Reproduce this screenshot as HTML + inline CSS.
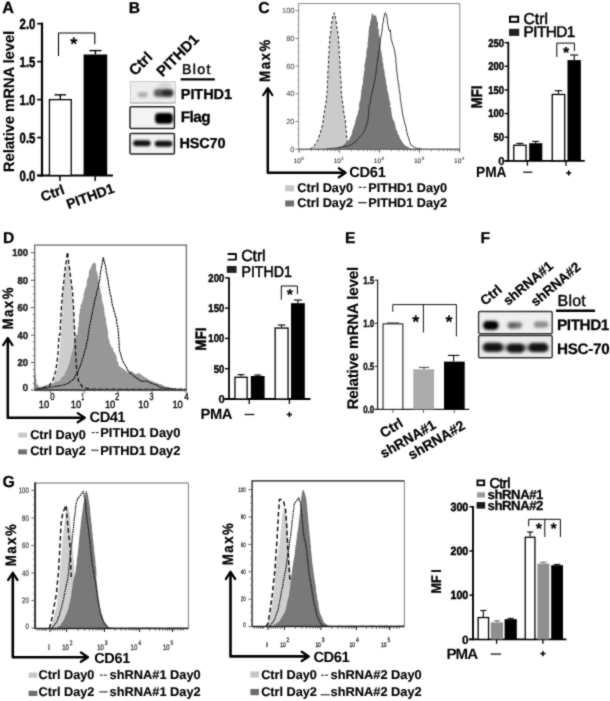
<!DOCTYPE html>
<html><head><meta charset="utf-8"><title>Figure</title>
<style>
html,body{margin:0;padding:0;background:#fff;}
svg{display:block;text-rendering:geometricPrecision;font-family:'Liberation Sans', Arial, sans-serif;}
</style></head><body>
<svg width="610" height="701" viewBox="0 0 610 701">
<defs>
<filter id="b1" x="-20%" y="-50%" width="140%" height="200%"><feGaussianBlur stdDeviation="1.2"/></filter>
<filter id="b2" x="-20%" y="-50%" width="140%" height="200%"><feGaussianBlur stdDeviation="1.8"/></filter>
<filter id="soft" filterUnits="userSpaceOnUse" x="0" y="0" width="610" height="701" color-interpolation-filters="sRGB"><feConvolveMatrix order="3" kernelMatrix="1 2 1 2 13 2 1 2 1" edgeMode="duplicate" preserveAlpha="false"/></filter>
</defs>
<rect width="610" height="701" fill="#fff"/>
<g filter="url(#soft)">
<text transform="translate(2.36 12.80)" font-size="16.23" font-weight="bold" text-anchor="start" fill="#000" stroke="#000" stroke-width="0.25" stroke-linejoin="round">A</text>
<text transform="translate(128.67 12.70)" font-size="15.65" font-weight="bold" text-anchor="start" fill="#000" stroke="#000" stroke-width="0.25" stroke-linejoin="round">B</text>
<text transform="translate(258.21 13.30)" font-size="15.80" font-weight="bold" text-anchor="start" fill="#000" stroke="#000" stroke-width="0.25" stroke-linejoin="round">C</text>
<text transform="translate(2.97 242.80)" font-size="15.65" font-weight="bold" text-anchor="start" fill="#000" stroke="#000" stroke-width="0.25" stroke-linejoin="round">D</text>
<text transform="translate(345.05 243.20)" font-size="15.65" font-weight="bold" text-anchor="start" fill="#000" stroke="#000" stroke-width="0.25" stroke-linejoin="round">E</text>
<text transform="translate(480.48 243.20)" font-size="15.65" font-weight="bold" text-anchor="start" fill="#000" stroke="#000" stroke-width="0.25" stroke-linejoin="round">F</text>
<text transform="translate(2.38 487.00)" font-size="15.94" font-weight="bold" text-anchor="start" fill="#000" stroke="#000" stroke-width="0.25" stroke-linejoin="round">G</text>
<text transform="translate(14.40 172.20) rotate(-90)" font-size="15.07" font-weight="bold" text-anchor="start" fill="#000" stroke="#000" stroke-width="0.12" stroke-linejoin="round" letter-spacing="-0.201">Relative mRNA level</text>
<line x1="42.00" y1="22.60" x2="42.00" y2="176.60" stroke="#000" stroke-width="2.2"/>
<line x1="37.20" y1="175.50" x2="113.00" y2="175.50" stroke="#000" stroke-width="2.2"/>
<line x1="37.20" y1="175.50" x2="42.00" y2="175.50" stroke="#000" stroke-width="1.7"/>
<text transform="translate(19.60 180.50) scale(0.777 1)" font-size="14.64" font-weight="bold" text-anchor="start" fill="#000" stroke="#000" stroke-width="0.5" stroke-linejoin="round">0.0</text>
<line x1="37.20" y1="137.55" x2="42.00" y2="137.55" stroke="#000" stroke-width="1.7"/>
<text transform="translate(19.60 142.55) scale(0.777 1)" font-size="14.64" font-weight="bold" text-anchor="start" fill="#000" stroke="#000" stroke-width="0.5" stroke-linejoin="round">0.5</text>
<line x1="37.20" y1="99.60" x2="42.00" y2="99.60" stroke="#000" stroke-width="1.7"/>
<text transform="translate(19.60 104.60) scale(0.777 1)" font-size="14.64" font-weight="bold" text-anchor="start" fill="#000" stroke="#000" stroke-width="0.5" stroke-linejoin="round">1.0</text>
<line x1="37.20" y1="61.65" x2="42.00" y2="61.65" stroke="#000" stroke-width="1.7"/>
<text transform="translate(19.60 66.65) scale(0.777 1)" font-size="14.64" font-weight="bold" text-anchor="start" fill="#000" stroke="#000" stroke-width="0.5" stroke-linejoin="round">1.5</text>
<line x1="37.20" y1="23.70" x2="42.00" y2="23.70" stroke="#000" stroke-width="1.7"/>
<text transform="translate(19.60 28.70) scale(0.777 1)" font-size="14.64" font-weight="bold" text-anchor="start" fill="#000" stroke="#000" stroke-width="0.5" stroke-linejoin="round">2.0</text>
<rect x="49.45" y="99.65" width="21.80" height="75.85" fill="#fff" stroke="#000" stroke-width="1.3"/>
<line x1="60.30" y1="99.30" x2="60.30" y2="94.80" stroke="#000" stroke-width="1.4"/>
<line x1="54.55" y1="94.80" x2="66.05" y2="94.80" stroke="#000" stroke-width="1.4"/>
<rect x="83.60" y="54.50" width="23.60" height="121.00" fill="#000" stroke="none" stroke-width="1"/>
<line x1="95.40" y1="54.50" x2="95.40" y2="50.60" stroke="#000" stroke-width="1.4"/>
<line x1="89.40" y1="50.60" x2="101.40" y2="50.60" stroke="#000" stroke-width="1.4"/>
<line x1="59.90" y1="175.50" x2="59.90" y2="180.90" stroke="#000" stroke-width="1.5"/>
<line x1="95.20" y1="175.50" x2="95.20" y2="180.90" stroke="#000" stroke-width="1.5"/>
<path d="M58.5,56.0 L58.5,33.0 L94.8,33.0 L94.8,44.3" fill="none" stroke="#000" stroke-width="1.1" stroke-linejoin="round"/>
<text transform="translate(73.80 49.80)" font-size="18.00" font-weight="bold" text-anchor="middle" fill="#000" stroke="#000" stroke-width="0.1" stroke-linejoin="round">*</text>
<text transform="translate(65.30 193.40) rotate(-20)" font-size="14.00" font-weight="bold" text-anchor="end" fill="#000" stroke="#000" stroke-width="0.25" stroke-linejoin="round">Ctrl</text>
<text transform="translate(115.30 192.20) rotate(-20)" font-size="14.00" font-weight="bold" text-anchor="end" fill="#000" stroke="#000" stroke-width="0.25" stroke-linejoin="round">PITHD1</text>
<text transform="translate(134.90 76.60) rotate(-45)" font-size="15.20" font-weight="bold" text-anchor="start" fill="#000" stroke="#000" stroke-width="0.25" stroke-linejoin="round">Ctrl</text>
<text transform="translate(162.60 77.40) rotate(-45)" font-size="14.80" font-weight="bold" text-anchor="start" fill="#000" stroke="#000" stroke-width="0.25" stroke-linejoin="round">PITHD1</text>
<text transform="translate(182.00 73.60)" font-size="14.20" font-weight="normal" text-anchor="start" fill="#000" stroke="#000" stroke-width="0.45" stroke-linejoin="round" letter-spacing="1.300">Blot</text>
<line x1="180.70" y1="79.40" x2="214.80" y2="79.40" stroke="#000" stroke-width="2.4"/>
<rect x="130.40" y="81.40" width="45.20" height="21.60" fill="#ededed" stroke="#c4c4c4" stroke-width="0.8"/>
<line x1="130.40" y1="103.00" x2="175.60" y2="103.00" stroke="#aaa" stroke-width="1.0"/>
<rect x="137.7" y="92.5" width="10.0" height="4.5" rx="2.2" fill="#000" opacity="0.3" filter="url(#b2)"/>
<rect x="153.8" y="89.0" width="19.5" height="8.0" rx="4.0" fill="#000" opacity="0.62" filter="url(#b2)"/>
<rect x="162.0" y="90.2" width="11.0" height="5.5" rx="2.8" fill="#000" opacity="0.55" filter="url(#b2)"/>
<rect x="159.0" y="83.8" width="12.0" height="2.5" rx="1.2" fill="#000" opacity="0.18" filter="url(#b2)"/>
<rect x="130.00" y="106.80" width="44.40" height="21.80" fill="#f3f3f3" stroke="#222" stroke-width="1.5" rx="1"/>
<rect x="155.0" y="113.0" width="17.8" height="10.8" rx="4" fill="#000" filter="url(#b1)"/>
<rect x="130.00" y="133.40" width="44.40" height="20.60" fill="#f1f1f1" stroke="#222" stroke-width="1.5" rx="1"/>
<rect x="133.1" y="140.3" width="17.5" height="6.0" rx="3.0" fill="#000" opacity="0.92" filter="url(#b1)"/>
<rect x="154.8" y="140.8" width="17.5" height="6.0" rx="3.0" fill="#000" opacity="0.92" filter="url(#b1)"/>
<text transform="translate(180.80 98.80)" font-size="14.49" font-weight="bold" text-anchor="start" fill="#000" stroke="#000" stroke-width="0.3" stroke-linejoin="round" letter-spacing="-0.064">PITHD1</text>
<text transform="translate(180.80 122.20)" font-size="15.36" font-weight="bold" text-anchor="start" fill="#000" stroke="#000" stroke-width="0.3" stroke-linejoin="round" letter-spacing="-0.590">Flag</text>
<text transform="translate(179.40 147.80)" font-size="14.49" font-weight="bold" text-anchor="start" fill="#000" stroke="#000" stroke-width="0.3" stroke-linejoin="round" letter-spacing="-0.160">HSC70</text>
<path d="M310.0,149.0 L314.0,146.5 L315.2,144.2 L316.7,142.0 L318.0,140.0 L318.8,137.4 L319.3,135.0 L320.0,132.5 L321.0,130.0 L321.5,127.1 L322.3,124.8 L323.0,122.0 L323.2,119.1 L323.9,116.6 L324.2,113.5 L324.8,110.6 L325.0,108.0 L325.6,105.1 L325.6,102.2 L326.1,99.8 L326.4,96.8 L327.0,94.0 L327.2,91.4 L327.2,88.7 L327.1,86.2 L327.5,83.8 L327.5,81.3 L327.6,78.6 L327.9,76.3 L327.7,73.7 L328.0,71.3 L328.2,68.4 L328.2,66.0 L328.6,63.3 L328.4,61.0 L328.5,58.4 L328.6,55.9 L329.1,53.3 L329.3,50.6 L329.3,48.2 L329.4,45.6 L329.7,43.3 L329.6,40.6 L329.8,38.0 L329.9,35.3 L330.6,32.6 L331.1,29.4 L331.2,26.8 L331.4,23.8 L332.0,21.0 L332.5,17.6 L333.4,14.5 L334.3,12.8 L335.2,16.0 L335.4,18.6 L336.0,21.0 L336.2,23.7 L336.8,26.9 L337.1,29.5 L337.8,32.5 L338.3,35.3 L338.6,38.0 L338.6,40.5 L338.8,43.3 L339.2,45.5 L338.9,48.0 L339.1,50.7 L339.4,53.2 L339.2,55.8 L339.6,58.4 L340.0,61.0 L339.9,63.5 L340.0,66.0 L340.2,68.3 L340.5,71.2 L340.6,73.8 L340.5,76.1 L340.5,78.8 L340.7,81.1 L340.9,83.6 L341.1,86.1 L341.1,88.7 L341.3,91.4 L341.6,94.0 L341.7,96.9 L342.3,99.2 L342.4,101.9 L342.8,104.5 L343.4,107.6 L343.5,110.0 L344.0,113.0 L344.3,115.8 L344.9,118.9 L345.5,122.0 L345.9,124.4 L345.7,127.4 L346.1,129.6 L346.3,132.2 L346.5,135.0 L346.9,138.2 L347.5,141.1 L347.7,144.0 L350.0,148.0 L352.0,149.2Z" fill="#cbcbcb" stroke="none" stroke-width="1" stroke-linejoin="round"/>
<path d="M310.0,149.0 L314.0,146.5 L315.2,144.3 L316.5,142.3 L318.0,140.0 L318.8,137.6 L319.4,134.9 L320.4,132.7 L321.0,130.0 L321.8,127.5 L322.5,124.8 L323.0,122.0 L323.3,119.2 L323.7,116.2 L324.0,113.5 L324.5,110.9 L325.0,108.0 L325.6,105.2 L326.0,102.6 L326.4,99.5 L326.5,96.7 L327.0,94.0 L327.0,91.3 L327.3,89.1 L327.5,86.4 L327.5,84.0 L327.3,81.4 L327.9,78.9 L327.9,76.2 L327.7,73.8 L327.9,71.2 L328.3,68.5 L328.2,66.0 L328.3,63.7 L328.6,60.7 L328.4,58.2 L329.0,56.0 L328.8,53.4 L329.3,50.8 L329.1,48.2 L329.2,45.4 L329.7,43.2 L329.7,40.8 L329.8,38.0 L330.1,35.4 L330.7,32.2 L330.8,29.4 L331.1,26.7 L331.5,23.8 L332.0,21.0 L332.5,18.0 L333.4,14.5 L334.3,12.8 L335.2,16.0 L335.5,18.5 L336.0,21.0 L336.5,24.0 L336.8,26.9 L337.3,29.5 L337.7,32.1 L338.1,35.0 L338.6,38.0 L338.5,40.7 L338.7,43.1 L339.1,45.7 L339.0,48.2 L339.3,50.9 L339.2,53.3 L339.4,55.7 L339.8,58.4 L339.8,61.0 L340.1,63.4 L340.0,66.0 L340.2,68.5 L340.3,71.2 L340.4,73.7 L340.6,76.4 L340.8,78.9 L341.1,81.2 L341.0,84.0 L341.3,86.2 L341.1,88.9 L341.2,91.3 L341.6,94.0 L341.7,96.8 L342.4,99.5 L342.4,102.1 L342.9,104.5 L343.4,107.6 L343.5,110.0 L343.9,113.2 L344.4,116.0 L345.2,119.2 L345.5,122.0 L345.5,124.6 L345.9,127.1 L345.9,129.7 L346.4,132.2 L346.5,135.0 L346.9,138.0 L347.1,140.9 L347.7,144.0 L350.0,148.0 L352.0,149.2" fill="none" stroke="#222" stroke-width="1.0" stroke-linejoin="round" stroke-dasharray="3 2"/>
<path d="M328.0,149.2 L330.5,148.8 L332.2,148.9 L335.0,148.0 L337.6,148.0 L339.3,146.8 L342.0,146.5 L343.4,145.3 L345.4,143.1 L347.5,142.0 L348.4,140.7 L349.8,138.3 L350.1,137.2 L351.4,135.0 L352.1,133.0 L352.3,130.2 L353.5,128.4 L353.6,126.8 L354.8,124.5 L355.3,122.0 L355.5,120.4 L356.0,118.4 L357.0,115.8 L357.7,114.4 L358.0,111.6 L358.8,110.0 L359.1,107.6 L359.0,105.4 L359.3,103.3 L359.9,101.2 L360.6,99.1 L360.7,96.8 L361.0,95.0 L361.1,92.4 L361.3,90.2 L362.1,88.6 L361.8,86.4 L362.9,83.9 L363.0,82.1 L363.0,80.0 L363.3,78.3 L363.4,76.0 L364.0,74.5 L363.9,72.3 L364.6,70.1 L364.5,67.8 L364.4,65.6 L364.7,64.2 L365.2,61.7 L365.7,60.0 L365.5,58.3 L366.6,56.2 L366.2,53.7 L366.5,52.0 L366.6,49.9 L367.0,48.5 L367.9,46.0 L367.4,44.5 L367.8,41.9 L368.2,40.0 L367.9,37.9 L368.6,36.0 L368.6,34.0 L368.6,31.8 L368.9,29.9 L369.1,27.5 L369.6,25.7 L370.1,24.0 L370.2,22.0 L370.9,19.8 L371.3,17.7 L371.5,15.0 L372.5,12.8 L373.8,16.5 L375.0,14.5 L376.5,17.0 L376.7,18.8 L377.2,21.0 L378.0,22.8 L378.0,25.4 L377.7,27.7 L378.8,29.6 L379.0,31.9 L378.7,33.7 L379.4,36.1 L380.0,38.2 L380.0,40.0 L380.3,42.4 L380.7,44.2 L380.4,45.5 L380.6,47.9 L380.8,50.3 L381.5,52.1 L381.8,54.2 L381.9,55.5 L382.5,58.2 L382.4,60.0 L382.7,62.0 L383.2,63.6 L383.6,65.8 L383.3,67.8 L384.3,69.7 L384.6,72.5 L384.7,73.9 L385.0,76.2 L385.6,78.1 L385.7,80.0 L386.2,81.6 L386.1,83.8 L387.0,85.8 L387.2,87.5 L387.1,89.8 L388.0,92.2 L388.4,93.8 L388.6,96.0 L388.9,97.6 L389.3,100.0 L390.1,101.7 L390.5,104.4 L390.0,106.0 L391.1,108.5 L391.2,110.0 L391.5,111.8 L391.7,114.4 L392.1,116.1 L392.4,118.0 L393.2,120.0 L394.3,121.6 L394.8,124.0 L395.6,126.2 L395.6,128.4 L396.5,130.0 L397.4,131.5 L397.8,134.0 L399.2,135.8 L399.7,137.8 L401.0,140.0 L402.5,142.3 L403.8,144.3 L406.0,146.0 L408.3,146.9 L410.0,148.6 L412.4,149.1 L414.0,149.2Z" fill="#777" stroke="none" stroke-width="1" stroke-linejoin="round"/>
<path d="M326.0,148.8 L328.6,148.5 L330.6,148.4 L333.0,148.3 L336.2,148.0 L338.6,147.5 L341.6,147.2 L344.1,146.4 L346.6,146.3 L349.4,145.6 L351.2,144.8 L353.2,143.3 L355.3,142.3 L356.9,140.1 L358.5,138.6 L360.2,136.4 L362.4,134.1 L364.2,131.5 L365.0,129.4 L366.0,126.8 L366.6,124.1 L367.4,122.0 L368.0,119.7 L368.3,117.4 L368.2,114.6 L368.7,112.2 L368.6,110.0 L369.0,107.7 L369.3,105.7 L370.2,103.2 L370.4,101.0 L370.8,98.8 L371.0,96.5 L371.5,94.7 L372.1,92.1 L372.5,90.0 L373.4,87.8 L373.7,84.8 L374.2,82.3 L375.0,80.0 L375.2,77.5 L375.4,75.4 L375.9,73.6 L376.3,71.1 L376.3,68.9 L376.6,66.6 L376.7,64.3 L377.5,62.0 L377.5,60.0 L377.8,57.9 L378.4,55.4 L378.3,53.2 L378.7,51.1 L379.4,49.1 L379.7,46.4 L379.5,44.6 L380.3,42.2 L380.4,40.0 L380.9,37.2 L381.1,35.3 L381.8,32.7 L382.0,30.0 L382.6,27.6 L382.4,25.4 L382.9,23.5 L383.5,21.3 L383.5,19.0 L384.3,16.1 L385.0,12.8 L386.3,14.0 L386.8,16.9 L387.3,19.7 L387.3,22.2 L387.8,24.6 L388.4,26.6 L388.6,29.0 L389.9,31.5 L390.4,30.0 L390.4,32.2 L390.9,34.8 L390.8,36.7 L391.2,39.3 L392.0,41.8 L392.6,44.1 L393.5,46.4 L394.2,49.2 L395.0,52.0 L395.1,54.4 L395.7,56.9 L395.9,59.2 L395.7,61.5 L396.3,64.2 L396.2,66.2 L396.5,68.9 L396.8,71.5 L397.1,73.7 L397.5,76.5 L397.6,78.4 L398.0,81.1 L398.5,83.4 L398.9,86.2 L399.0,88.5 L399.3,90.7 L399.9,93.2 L400.2,95.5 L400.2,98.2 L400.5,100.7 L401.0,102.6 L401.2,105.2 L401.8,107.9 L402.0,110.0 L402.3,112.4 L402.8,115.1 L403.3,117.0 L404.0,119.7 L404.3,121.9 L405.3,124.4 L405.7,126.7 L406.3,128.6 L406.4,131.2 L407.2,132.9 L407.6,135.4 L408.5,137.8 L409.2,140.2 L410.0,142.5 L411.0,145.2 L413.3,146.6 L415.8,148.2 L419.2,148.4 L422.0,149.0" fill="none" stroke="#222" stroke-width="0.9" stroke-linejoin="round"/>
<rect x="298.60" y="3.60" width="161.20" height="145.60" fill="none" stroke="#8c8c8c" stroke-width="1.0"/>
<line x1="298.60" y1="149.20" x2="459.80" y2="149.20" stroke="#555" stroke-width="1.1"/>
<line x1="295.20" y1="149.20" x2="298.60" y2="149.20" stroke="#666" stroke-width="0.8"/>
<text transform="translate(294.40 151.80)" font-size="7.40" font-weight="normal" text-anchor="end" fill="#555" stroke="#555" stroke-width="0.1" stroke-linejoin="round">0</text>
<line x1="297.00" y1="142.28" x2="298.60" y2="142.28" stroke="#888" stroke-width="0.5"/>
<line x1="297.00" y1="135.36" x2="298.60" y2="135.36" stroke="#888" stroke-width="0.5"/>
<line x1="297.00" y1="128.44" x2="298.60" y2="128.44" stroke="#888" stroke-width="0.5"/>
<line x1="295.20" y1="121.52" x2="298.60" y2="121.52" stroke="#666" stroke-width="0.8"/>
<text transform="translate(294.40 124.12)" font-size="7.40" font-weight="normal" text-anchor="end" fill="#555" stroke="#555" stroke-width="0.1" stroke-linejoin="round">20</text>
<line x1="297.00" y1="114.60" x2="298.60" y2="114.60" stroke="#888" stroke-width="0.5"/>
<line x1="297.00" y1="107.68" x2="298.60" y2="107.68" stroke="#888" stroke-width="0.5"/>
<line x1="297.00" y1="100.76" x2="298.60" y2="100.76" stroke="#888" stroke-width="0.5"/>
<line x1="295.20" y1="93.84" x2="298.60" y2="93.84" stroke="#666" stroke-width="0.8"/>
<text transform="translate(294.40 96.44)" font-size="7.40" font-weight="normal" text-anchor="end" fill="#555" stroke="#555" stroke-width="0.1" stroke-linejoin="round">40</text>
<line x1="297.00" y1="86.92" x2="298.60" y2="86.92" stroke="#888" stroke-width="0.5"/>
<line x1="297.00" y1="80.00" x2="298.60" y2="80.00" stroke="#888" stroke-width="0.5"/>
<line x1="297.00" y1="73.08" x2="298.60" y2="73.08" stroke="#888" stroke-width="0.5"/>
<line x1="295.20" y1="66.16" x2="298.60" y2="66.16" stroke="#666" stroke-width="0.8"/>
<text transform="translate(294.40 68.76)" font-size="7.40" font-weight="normal" text-anchor="end" fill="#555" stroke="#555" stroke-width="0.1" stroke-linejoin="round">60</text>
<line x1="297.00" y1="59.24" x2="298.60" y2="59.24" stroke="#888" stroke-width="0.5"/>
<line x1="297.00" y1="52.32" x2="298.60" y2="52.32" stroke="#888" stroke-width="0.5"/>
<line x1="297.00" y1="45.40" x2="298.60" y2="45.40" stroke="#888" stroke-width="0.5"/>
<line x1="295.20" y1="38.48" x2="298.60" y2="38.48" stroke="#666" stroke-width="0.8"/>
<text transform="translate(294.40 41.08)" font-size="7.40" font-weight="normal" text-anchor="end" fill="#555" stroke="#555" stroke-width="0.1" stroke-linejoin="round">80</text>
<line x1="297.00" y1="31.56" x2="298.60" y2="31.56" stroke="#888" stroke-width="0.5"/>
<line x1="297.00" y1="24.64" x2="298.60" y2="24.64" stroke="#888" stroke-width="0.5"/>
<line x1="297.00" y1="17.72" x2="298.60" y2="17.72" stroke="#888" stroke-width="0.5"/>
<line x1="295.20" y1="10.80" x2="298.60" y2="10.80" stroke="#666" stroke-width="0.8"/>
<text transform="translate(294.40 13.40)" font-size="7.40" font-weight="normal" text-anchor="end" fill="#555" stroke="#555" stroke-width="0.1" stroke-linejoin="round">100</text>
<line x1="299.20" y1="149.20" x2="299.20" y2="152.60" stroke="#444" stroke-width="0.9"/>
<text transform="translate(293.60 162.90)" font-size="6.60" font-weight="normal" text-anchor="start" fill="#333" stroke="#333" stroke-width="0.15" stroke-linejoin="round">10</text>
<text transform="translate(301.20 160.00)" font-size="4.60" font-weight="normal" text-anchor="start" fill="#333" stroke="#333" stroke-width="0.1" stroke-linejoin="round">0</text>
<line x1="311.27" y1="149.20" x2="311.27" y2="151.20" stroke="#555" stroke-width="0.7"/>
<line x1="318.33" y1="149.20" x2="318.33" y2="151.20" stroke="#555" stroke-width="0.7"/>
<line x1="323.34" y1="149.20" x2="323.34" y2="151.20" stroke="#555" stroke-width="0.7"/>
<line x1="327.23" y1="149.20" x2="327.23" y2="151.20" stroke="#555" stroke-width="0.7"/>
<line x1="330.40" y1="149.20" x2="330.40" y2="151.20" stroke="#555" stroke-width="0.7"/>
<line x1="333.09" y1="149.20" x2="333.09" y2="151.20" stroke="#555" stroke-width="0.7"/>
<line x1="335.41" y1="149.20" x2="335.41" y2="151.20" stroke="#555" stroke-width="0.7"/>
<line x1="337.47" y1="149.20" x2="337.47" y2="151.20" stroke="#555" stroke-width="0.7"/>
<line x1="339.30" y1="149.20" x2="339.30" y2="152.60" stroke="#444" stroke-width="0.9"/>
<text transform="translate(333.70 162.90)" font-size="6.60" font-weight="normal" text-anchor="start" fill="#333" stroke="#333" stroke-width="0.15" stroke-linejoin="round">10</text>
<text transform="translate(341.30 160.00)" font-size="4.60" font-weight="normal" text-anchor="start" fill="#333" stroke="#333" stroke-width="0.1" stroke-linejoin="round">1</text>
<line x1="351.37" y1="149.20" x2="351.37" y2="151.20" stroke="#555" stroke-width="0.7"/>
<line x1="358.43" y1="149.20" x2="358.43" y2="151.20" stroke="#555" stroke-width="0.7"/>
<line x1="363.44" y1="149.20" x2="363.44" y2="151.20" stroke="#555" stroke-width="0.7"/>
<line x1="367.33" y1="149.20" x2="367.33" y2="151.20" stroke="#555" stroke-width="0.7"/>
<line x1="370.50" y1="149.20" x2="370.50" y2="151.20" stroke="#555" stroke-width="0.7"/>
<line x1="373.19" y1="149.20" x2="373.19" y2="151.20" stroke="#555" stroke-width="0.7"/>
<line x1="375.51" y1="149.20" x2="375.51" y2="151.20" stroke="#555" stroke-width="0.7"/>
<line x1="377.57" y1="149.20" x2="377.57" y2="151.20" stroke="#555" stroke-width="0.7"/>
<line x1="379.40" y1="149.20" x2="379.40" y2="152.60" stroke="#444" stroke-width="0.9"/>
<text transform="translate(373.80 162.90)" font-size="6.60" font-weight="normal" text-anchor="start" fill="#333" stroke="#333" stroke-width="0.15" stroke-linejoin="round">10</text>
<text transform="translate(381.40 160.00)" font-size="4.60" font-weight="normal" text-anchor="start" fill="#333" stroke="#333" stroke-width="0.1" stroke-linejoin="round">2</text>
<line x1="391.47" y1="149.20" x2="391.47" y2="151.20" stroke="#555" stroke-width="0.7"/>
<line x1="398.53" y1="149.20" x2="398.53" y2="151.20" stroke="#555" stroke-width="0.7"/>
<line x1="403.54" y1="149.20" x2="403.54" y2="151.20" stroke="#555" stroke-width="0.7"/>
<line x1="407.43" y1="149.20" x2="407.43" y2="151.20" stroke="#555" stroke-width="0.7"/>
<line x1="410.60" y1="149.20" x2="410.60" y2="151.20" stroke="#555" stroke-width="0.7"/>
<line x1="413.29" y1="149.20" x2="413.29" y2="151.20" stroke="#555" stroke-width="0.7"/>
<line x1="415.61" y1="149.20" x2="415.61" y2="151.20" stroke="#555" stroke-width="0.7"/>
<line x1="417.67" y1="149.20" x2="417.67" y2="151.20" stroke="#555" stroke-width="0.7"/>
<line x1="419.50" y1="149.20" x2="419.50" y2="152.60" stroke="#444" stroke-width="0.9"/>
<text transform="translate(413.90 162.90)" font-size="6.60" font-weight="normal" text-anchor="start" fill="#333" stroke="#333" stroke-width="0.15" stroke-linejoin="round">10</text>
<text transform="translate(421.50 160.00)" font-size="4.60" font-weight="normal" text-anchor="start" fill="#333" stroke="#333" stroke-width="0.1" stroke-linejoin="round">3</text>
<line x1="431.57" y1="149.20" x2="431.57" y2="151.20" stroke="#555" stroke-width="0.7"/>
<line x1="438.63" y1="149.20" x2="438.63" y2="151.20" stroke="#555" stroke-width="0.7"/>
<line x1="443.64" y1="149.20" x2="443.64" y2="151.20" stroke="#555" stroke-width="0.7"/>
<line x1="447.53" y1="149.20" x2="447.53" y2="151.20" stroke="#555" stroke-width="0.7"/>
<line x1="450.70" y1="149.20" x2="450.70" y2="151.20" stroke="#555" stroke-width="0.7"/>
<line x1="453.39" y1="149.20" x2="453.39" y2="151.20" stroke="#555" stroke-width="0.7"/>
<line x1="455.71" y1="149.20" x2="455.71" y2="151.20" stroke="#555" stroke-width="0.7"/>
<line x1="457.77" y1="149.20" x2="457.77" y2="151.20" stroke="#555" stroke-width="0.7"/>
<line x1="459.60" y1="149.20" x2="459.60" y2="152.60" stroke="#444" stroke-width="0.9"/>
<text transform="translate(454.00 162.90)" font-size="6.60" font-weight="normal" text-anchor="start" fill="#333" stroke="#333" stroke-width="0.15" stroke-linejoin="round">10</text>
<text transform="translate(461.60 160.00)" font-size="4.60" font-weight="normal" text-anchor="start" fill="#333" stroke="#333" stroke-width="0.1" stroke-linejoin="round">4</text>
<text transform="translate(270.40 81.90) rotate(-90) scale(0.880 1)" font-size="15.07" font-weight="bold" text-anchor="start" fill="#000" stroke="#000" stroke-width="0.3" stroke-linejoin="round" letter-spacing="1.7" dx="0 0 0 0.24">Max%</text>
<path d="M267.8,88.6 L267.8,172.8 L345.2,172.8" fill="none" stroke="#000" stroke-width="2.5" stroke-linejoin="round"/>
<path d="M263.3,95.0 L267.8,88.2 L272.3,95.0" fill="none" stroke="#000" stroke-width="2.25" stroke-linejoin="round" stroke-linecap="round" stroke-linejoin="miter"/>
<path d="M338.8,168.3 L345.6,172.8 L338.8,177.3" fill="none" stroke="#000" stroke-width="2.25" stroke-linejoin="round" stroke-linecap="round" stroke-linejoin="miter"/>
<text transform="translate(349.20 177.00)" font-size="14.64" font-weight="bold" text-anchor="start" fill="#000" stroke="#000" stroke-width="0.01" stroke-linejoin="round" letter-spacing="-0.266">CD61</text>
<rect x="285.20" y="185.30" width="8.90" height="6.00" fill="#c6c6c6" stroke="none" stroke-width="1"/>
<rect x="285.20" y="200.50" width="8.90" height="6.00" fill="#6e6e6e" stroke="none" stroke-width="1"/>
<text transform="translate(297.30 191.90)" font-size="12.70" font-weight="bold" text-anchor="start" fill="#000" stroke="#000" stroke-width="0.15" stroke-linejoin="round">Ctrl Day0</text>
<text transform="translate(297.30 207.10)" font-size="12.70" font-weight="bold" text-anchor="start" fill="#000" stroke="#000" stroke-width="0.15" stroke-linejoin="round">Ctrl Day2</text>
<line x1="358.60" y1="187.30" x2="361.75" y2="187.30" stroke="#222" stroke-width="1.1"/>
<line x1="362.95" y1="187.30" x2="366.10" y2="187.30" stroke="#222" stroke-width="1.1"/>
<line x1="358.20" y1="202.70" x2="366.70" y2="202.70" stroke="#111" stroke-width="1.2"/>
<text transform="translate(368.20 191.90)" font-size="12.70" font-weight="bold" text-anchor="start" fill="#000" stroke="#000" stroke-width="0.15" stroke-linejoin="round">PITHD1 Day0</text>
<text transform="translate(368.20 207.10)" font-size="12.70" font-weight="bold" text-anchor="start" fill="#000" stroke="#000" stroke-width="0.15" stroke-linejoin="round">PITHD1 Day2</text>
<line x1="508.30" y1="41.80" x2="508.30" y2="161.70" stroke="#000" stroke-width="1.8"/>
<line x1="504.40" y1="160.80" x2="584.80" y2="160.80" stroke="#000" stroke-width="1.8"/>
<line x1="504.60" y1="160.80" x2="508.30" y2="160.80" stroke="#000" stroke-width="1.4"/>
<text transform="translate(498.23 164.70)" font-size="11.30" font-weight="bold" text-anchor="start" fill="#000" stroke="#000" stroke-width="0.25" stroke-linejoin="round">0</text>
<line x1="504.60" y1="137.18" x2="508.30" y2="137.18" stroke="#000" stroke-width="1.4"/>
<text transform="translate(493.47 141.08) scale(0.839 1)" font-size="11.30" font-weight="bold" text-anchor="start" fill="#000" stroke="#000" stroke-width="0.5" stroke-linejoin="round">50</text>
<line x1="504.60" y1="113.56" x2="508.30" y2="113.56" stroke="#000" stroke-width="1.4"/>
<text transform="translate(488.16 117.46) scale(0.839 1)" font-size="11.30" font-weight="bold" text-anchor="start" fill="#000" stroke="#000" stroke-width="0.5" stroke-linejoin="round">100</text>
<line x1="504.60" y1="89.94" x2="508.30" y2="89.94" stroke="#000" stroke-width="1.4"/>
<text transform="translate(488.16 93.84) scale(0.839 1)" font-size="11.30" font-weight="bold" text-anchor="start" fill="#000" stroke="#000" stroke-width="0.5" stroke-linejoin="round">150</text>
<line x1="504.60" y1="66.32" x2="508.30" y2="66.32" stroke="#000" stroke-width="1.4"/>
<text transform="translate(488.16 70.22) scale(0.839 1)" font-size="11.30" font-weight="bold" text-anchor="start" fill="#000" stroke="#000" stroke-width="0.5" stroke-linejoin="round">200</text>
<line x1="504.60" y1="42.70" x2="508.30" y2="42.70" stroke="#000" stroke-width="1.4"/>
<text transform="translate(488.16 46.60) scale(0.839 1)" font-size="11.30" font-weight="bold" text-anchor="start" fill="#000" stroke="#000" stroke-width="0.5" stroke-linejoin="round">250</text>
<text transform="translate(482.00 108.60) rotate(-90) scale(0.870 1)" font-size="15.36" font-weight="bold" text-anchor="start" fill="#000" stroke="#000" stroke-width="0.5" stroke-linejoin="round">MFI</text>
<rect x="510.00" y="16.70" width="8.20" height="5.10" fill="#fff" stroke="#000" stroke-width="2.0"/>
<rect x="509.00" y="28.80" width="10.20" height="7.10" fill="#222" stroke="none" stroke-width="1"/>
<text transform="translate(523.40 23.50)" font-size="15.65" font-weight="normal" text-anchor="start" fill="#000" stroke="#000" stroke-width="0.55" stroke-linejoin="round" letter-spacing="0.087">Ctrl</text>
<text transform="translate(523.60 37.10)" font-size="15.36" font-weight="normal" text-anchor="start" fill="#000" stroke="#000" stroke-width="0.55" stroke-linejoin="round" letter-spacing="-0.583">PITHD1</text>
<rect x="513.75" y="145.25" width="12.30" height="15.55" fill="#fff" stroke="#000" stroke-width="1.3"/>
<line x1="519.90" y1="144.60" x2="519.90" y2="143.40" stroke="#000" stroke-width="1.1"/>
<line x1="516.40" y1="143.40" x2="523.40" y2="143.40" stroke="#000" stroke-width="1.1"/>
<rect x="529.20" y="143.20" width="13.10" height="17.60" fill="#000" stroke="none" stroke-width="1"/>
<line x1="535.70" y1="143.20" x2="535.70" y2="141.40" stroke="#000" stroke-width="1.1"/>
<line x1="532.20" y1="141.40" x2="539.20" y2="141.40" stroke="#000" stroke-width="1.1"/>
<rect x="552.25" y="94.45" width="12.40" height="66.35" fill="#fff" stroke="#000" stroke-width="1.3"/>
<line x1="558.40" y1="93.80" x2="558.40" y2="90.70" stroke="#000" stroke-width="1.1"/>
<line x1="554.65" y1="90.70" x2="562.15" y2="90.70" stroke="#000" stroke-width="1.1"/>
<rect x="567.50" y="60.10" width="13.40" height="100.70" fill="#000" stroke="none" stroke-width="1"/>
<line x1="574.20" y1="60.10" x2="574.20" y2="55.00" stroke="#000" stroke-width="1.1"/>
<line x1="570.20" y1="55.00" x2="578.20" y2="55.00" stroke="#000" stroke-width="1.1"/>
<line x1="527.40" y1="160.80" x2="527.40" y2="165.70" stroke="#000" stroke-width="1.3"/>
<line x1="566.00" y1="160.80" x2="566.00" y2="165.70" stroke="#000" stroke-width="1.3"/>
<path d="M556.8,57.0 L556.8,43.1 L574.4,43.1 L574.4,51.0" fill="none" stroke="#000" stroke-width="1.0" stroke-linejoin="round"/>
<text transform="translate(566.00 57.60)" font-size="16.00" font-weight="bold" text-anchor="middle" fill="#000" stroke="#000" stroke-width="0.2" stroke-linejoin="round">*</text>
<text transform="translate(476.00 177.30) scale(0.920 1)" font-size="14.93" font-weight="bold" text-anchor="start" fill="#000" stroke="#000" stroke-width="0.01" stroke-linejoin="round">PMA</text>
<line x1="523.20" y1="172.20" x2="532.40" y2="172.20" stroke="#111" stroke-width="1.3"/>
<line x1="566.10" y1="173.00" x2="571.30" y2="173.00" stroke="#000" stroke-width="1.5"/>
<line x1="568.70" y1="170.40" x2="568.70" y2="175.60" stroke="#000" stroke-width="1.5"/>
<path d="M40.0,389.6 L43.4,388.6 L46.3,388.0 L49.5,387.0 L51.7,384.2 L53.5,381.5 L54.1,378.9 L55.2,376.5 L56.0,373.6 L57.0,371.0 L57.6,368.1 L57.8,365.8 L58.4,362.8 L58.4,360.1 L59.3,357.5 L59.5,355.0 L59.8,352.7 L59.8,349.9 L60.3,347.6 L60.1,345.1 L60.3,342.4 L60.4,340.1 L61.0,337.6 L61.0,335.0 L61.3,332.1 L61.1,329.6 L61.5,327.2 L61.3,324.1 L61.5,321.6 L61.8,318.7 L61.9,316.3 L61.8,313.5 L62.1,311.1 L62.2,308.3 L62.2,305.8 L62.6,303.1 L62.4,300.9 L62.6,298.0 L62.7,295.7 L63.0,293.3 L63.4,290.8 L63.4,288.0 L63.6,285.3 L63.8,283.0 L64.4,280.5 L64.5,278.0 L65.0,275.6 L65.2,273.0 L65.9,270.7 L66.4,267.8 L67.0,265.3 L67.4,262.9 L67.9,260.4 L68.4,263.1 L68.6,266.1 L69.0,269.3 L69.6,272.0 L70.0,274.5 L70.2,277.4 L70.6,279.6 L71.1,282.4 L71.6,284.7 L71.6,287.6 L72.0,290.0 L72.3,292.8 L72.1,295.1 L72.3,297.7 L72.9,300.5 L73.1,303.0 L73.2,305.6 L73.1,308.4 L73.6,310.7 L73.6,313.5 L73.8,316.2 L73.9,318.8 L74.0,321.4 L74.3,324.3 L74.7,326.8 L74.6,329.5 L75.1,332.2 L75.2,335.0 L75.2,337.6 L75.6,340.6 L75.4,343.2 L75.7,346.2 L76.0,348.7 L75.9,351.8 L76.2,354.5 L76.3,357.0 L76.4,360.0 L76.6,362.4 L76.8,364.9 L77.2,367.8 L77.2,370.2 L77.6,373.0 L78.2,376.0 L78.3,379.3 L79.0,382.0 L81.0,384.9 L83.0,387.5 L86.5,388.7 L90.0,389.6Z" fill="#cdcdcd" stroke="none" stroke-width="1" stroke-linejoin="round"/>
<path d="M34.7,389.8 L34.7,387.2 L34.3,385.4 L35.0,383.5 L34.5,381.0 L34.9,378.7 L34.7,376.2 L35.2,374.7 L35.2,372.0 L35.0,374.0 L36.0,376.5 L35.6,377.6 L36.6,380.5 L36.3,381.6 L36.6,384.0 L38.4,385.4 L39.3,387.0 L42.6,386.4 L45.0,385.5 L47.4,384.7 L49.4,384.2 L51.2,384.0 L53.1,383.6 L55.4,382.2 L56.8,381.6 L59.0,381.0 L60.5,379.2 L61.6,377.3 L63.6,376.3 L64.9,374.2 L65.2,372.3 L66.8,369.8 L67.6,367.9 L68.2,366.3 L68.9,364.3 L69.6,362.1 L69.9,360.5 L70.5,358.6 L71.1,356.4 L71.2,354.6 L72.2,352.3 L72.8,350.6 L73.4,348.9 L73.5,346.3 L73.9,344.3 L73.9,342.6 L74.2,340.7 L75.0,338.3 L75.5,336.4 L75.7,334.8 L77.1,335.0 L77.6,333.0 L77.6,329.9 L77.8,327.9 L78.5,325.4 L78.3,323.4 L78.9,321.6 L79.0,319.1 L78.7,317.0 L79.2,314.7 L79.9,311.6 L79.7,309.6 L80.6,308.1 L80.4,305.5 L81.7,303.4 L82.4,301.5 L82.6,299.8 L83.4,297.5 L83.6,296.3 L83.8,293.6 L84.6,291.7 L84.6,289.6 L85.3,288.4 L86.3,286.4 L86.6,284.0 L86.7,282.3 L87.0,280.1 L88.0,277.9 L88.6,276.2 L88.8,274.5 L88.7,272.7 L89.5,270.2 L90.5,268.2 L91.5,266.2 L92.0,264.5 L94.0,262.4 L95.4,263.0 L96.2,265.5 L95.9,268.1 L96.4,270.2 L96.7,271.8 L97.4,273.7 L97.9,275.8 L98.1,278.5 L98.4,280.0 L98.9,282.1 L99.0,283.5 L99.2,285.6 L100.2,287.9 L100.5,290.3 L100.5,291.6 L101.3,293.9 L101.9,295.7 L101.7,298.2 L102.2,300.5 L102.7,303.0 L103.5,304.8 L104.0,307.3 L104.3,309.6 L104.3,312.2 L104.8,313.7 L105.0,316.4 L106.1,318.7 L106.0,320.4 L106.0,323.0 L106.9,324.9 L107.2,327.3 L107.6,329.8 L108.1,332.7 L107.9,335.0 L108.2,337.3 L108.6,338.9 L109.5,340.6 L109.7,343.0 L110.7,344.7 L111.2,346.7 L113.1,348.3 L113.3,350.7 L114.6,352.7 L115.6,354.5 L116.6,356.1 L116.7,358.2 L117.1,360.8 L118.5,362.6 L118.4,364.7 L119.5,366.3 L121.7,367.7 L123.7,369.2 L125.2,370.3 L127.4,372.2 L131.0,371.0 L132.8,372.1 L135.2,374.2 L139.0,373.0 L142.1,375.2 L143.7,376.6 L145.7,377.9 L147.5,378.6 L149.0,380.0 L151.0,380.7 L153.2,381.6 L154.7,382.5 L157.4,382.9 L158.9,384.0 L161.2,384.2 L162.6,385.2 L165.0,386.6 L167.0,386.7 L168.7,387.6 L171.5,387.8 L173.3,388.8 L176.2,389.0 L178.5,389.2 L181.2,389.9 L183.5,389.9 L186.0,389.8Z" fill="#979797" stroke="none" stroke-width="1" stroke-linejoin="round"/>
<path d="M36.0,389.3 L39.3,389.0 L42.7,388.1 L45.9,387.1 L49.2,386.0 L51.1,382.9 L53.0,380.0 L53.9,376.8 L54.9,373.6 L56.0,370.2 L56.3,366.9 L56.7,364.0 L57.2,360.7 L57.5,357.5 L58.0,354.5 L58.2,351.3 L58.4,348.0 L58.4,344.7 L58.6,341.5 L58.9,338.2 L59.0,334.8 L60.0,335.0 L60.0,332.0 L60.4,329.0 L60.3,325.7 L60.5,322.6 L60.8,319.7 L60.9,316.7 L61.0,313.5 L61.3,310.2 L61.4,307.0 L61.8,303.8 L61.9,300.7 L62.1,297.5 L62.4,294.4 L62.7,291.1 L63.0,288.0 L63.5,284.4 L63.9,280.9 L64.1,277.3 L64.6,273.8 L65.0,270.2 L65.4,267.3 L65.8,264.1 L66.4,261.1 L66.8,258.1 L66.9,255.1 L67.5,252.2 L68.0,255.3 L68.1,258.2 L68.6,261.3 L68.9,264.2 L69.4,267.3 L69.8,270.2 L70.2,273.6 L70.6,276.7 L71.2,280.1 L71.4,283.4 L71.8,286.8 L72.4,290.0 L72.7,293.4 L72.8,296.7 L73.0,300.0 L73.3,303.3 L73.5,306.6 L73.5,310.1 L73.8,313.5 L74.1,316.6 L74.0,319.8 L74.1,322.7 L74.4,325.9 L74.6,328.9 L74.6,331.9 L74.8,335.0 L74.8,338.4 L75.1,341.6 L75.2,344.7 L75.5,348.0 L75.4,351.2 L75.7,354.5 L76.0,357.6 L76.0,360.7 L76.4,364.0 L76.4,367.0 L76.7,370.2 L77.3,374.1 L78.0,378.0 L78.7,382.0 L80.6,384.4 L82.6,387.0 L86.7,388.2 L90.5,389.2 L93.5,389.3 L96.5,389.2 L99.9,389.3 L102.9,389.2 L105.8,389.3 L108.9,389.2 L112.0,389.1 L115.1,389.3 L118.3,389.3 L121.3,389.3 L124.3,389.3 L127.4,389.3 L130.7,389.3 L133.7,389.4 L136.7,389.2 L139.9,389.4 L143.0,389.4 L146.1,389.4 L149.1,389.3 L152.1,389.4 L155.1,389.3 L158.4,389.4 L161.4,389.3 L164.4,389.3 L167.6,389.3 L170.6,389.5 L173.6,389.4 L176.8,389.3 L179.8,389.5 L182.8,389.4 L186.0,389.4" fill="none" stroke="#111" stroke-width="1.3" stroke-linejoin="round" stroke-dasharray="4.2 2.4"/>
<path d="M36.0,389.0 L38.2,388.9 L41.2,388.3 L43.3,388.0 L45.7,387.7 L48.6,387.5 L51.2,387.0 L53.6,386.7 L56.2,386.2 L58.2,386.1 L60.4,385.5 L63.0,385.0 L64.9,384.5 L66.7,384.0 L68.9,383.0 L70.4,381.4 L72.0,380.3 L73.8,379.1 L74.8,376.7 L76.3,374.6 L77.7,372.2 L78.4,370.1 L79.1,368.4 L80.3,366.3 L80.6,364.6 L81.6,362.4 L82.1,360.2 L82.5,358.7 L83.5,356.6 L83.9,354.6 L84.3,352.9 L84.9,350.7 L85.6,348.6 L86.2,346.8 L86.3,344.5 L86.8,342.4 L87.4,340.6 L87.8,338.6 L87.8,336.6 L88.3,334.8 L88.6,332.3 L88.7,330.5 L89.2,327.9 L89.6,325.9 L90.1,323.7 L90.5,321.4 L91.0,319.3 L91.6,317.7 L91.4,315.7 L92.4,313.7 L92.3,311.8 L93.1,309.2 L93.4,307.6 L93.5,306.0 L94.4,303.5 L94.4,301.5 L94.9,300.0 L95.4,297.6 L96.3,296.1 L96.4,293.9 L96.7,292.2 L97.4,290.1 L98.0,288.2 L98.5,286.2 L98.6,284.1 L99.3,282.0 L99.7,279.9 L99.9,277.7 L100.3,275.0 L100.4,272.6 L101.0,270.3 L101.3,268.3 L101.7,265.9 L102.1,264.0 L102.6,262.1 L102.6,259.9 L103.4,257.5 L103.8,259.7 L104.4,262.0 L104.7,263.8 L105.6,265.7 L105.8,268.2 L106.2,270.2 L106.2,272.3 L107.0,274.5 L107.1,276.5 L107.5,278.1 L108.1,279.8 L108.4,282.2 L108.4,284.3 L108.8,286.0 L109.2,288.0 L109.6,290.4 L109.8,292.4 L110.4,294.8 L111.1,296.8 L111.5,299.1 L111.7,301.3 L112.1,303.7 L112.7,306.0 L113.3,307.8 L113.7,309.5 L114.2,311.6 L115.0,313.8 L115.1,315.7 L116.0,317.5 L116.7,319.9 L116.5,322.1 L116.9,324.4 L117.9,327.0 L118.0,329.3 L118.3,331.6 L118.6,333.6 L118.5,335.8 L118.7,337.9 L118.9,339.7 L119.0,342.1 L119.2,343.9 L119.0,346.0 L119.5,348.8 L119.5,350.6 L120.2,352.5 L120.9,354.7 L121.3,356.3 L121.8,358.4 L122.5,360.4 L123.7,362.7 L125.2,365.3 L126.4,367.3 L127.5,369.8 L129.3,372.2 L130.9,373.6 L133.5,375.5 L135.2,377.1 L137.5,378.4 L138.8,379.7 L141.1,381.1 L143.6,381.4 L146.0,381.0 L148.7,382.0 L150.6,382.7 L153.0,384.0 L155.1,384.5 L156.7,385.1 L158.5,386.3 L160.6,387.2 L162.8,387.6 L165.0,388.2 L167.4,388.0 L170.3,388.5 L172.6,389.0 L175.0,388.8 L176.8,389.3 L179.4,389.4 L181.7,389.0 L183.9,389.5 L186.0,389.4" fill="none" stroke="#1a1a1a" stroke-width="1.15" stroke-linejoin="round" stroke-dasharray="2.6 0.5"/>
<rect x="34.70" y="245.10" width="151.70" height="144.90" fill="none" stroke="#6a6a6a" stroke-width="1.3"/>
<line x1="34.70" y1="390.00" x2="186.40" y2="390.00" stroke="#333" stroke-width="1.4"/>
<line x1="30.90" y1="252.80" x2="34.70" y2="252.80" stroke="#555" stroke-width="1.0"/>
<text transform="translate(12.19 256.30) scale(0.927 1)" font-size="10.14" font-weight="bold" text-anchor="start" fill="#222" stroke="#222" stroke-width="0.5" stroke-linejoin="round">100</text>
<line x1="32.70" y1="259.66" x2="34.70" y2="259.66" stroke="#666" stroke-width="0.8"/>
<line x1="32.70" y1="266.52" x2="34.70" y2="266.52" stroke="#666" stroke-width="0.8"/>
<line x1="32.70" y1="273.38" x2="34.70" y2="273.38" stroke="#666" stroke-width="0.8"/>
<line x1="30.90" y1="280.24" x2="34.70" y2="280.24" stroke="#555" stroke-width="1.0"/>
<text transform="translate(17.46 283.74) scale(0.927 1)" font-size="10.14" font-weight="bold" text-anchor="start" fill="#222" stroke="#222" stroke-width="0.5" stroke-linejoin="round">80</text>
<line x1="32.70" y1="287.10" x2="34.70" y2="287.10" stroke="#666" stroke-width="0.8"/>
<line x1="32.70" y1="293.96" x2="34.70" y2="293.96" stroke="#666" stroke-width="0.8"/>
<line x1="32.70" y1="300.82" x2="34.70" y2="300.82" stroke="#666" stroke-width="0.8"/>
<line x1="30.90" y1="307.68" x2="34.70" y2="307.68" stroke="#555" stroke-width="1.0"/>
<text transform="translate(17.46 311.18) scale(0.927 1)" font-size="10.14" font-weight="bold" text-anchor="start" fill="#222" stroke="#222" stroke-width="0.5" stroke-linejoin="round">60</text>
<line x1="32.70" y1="314.54" x2="34.70" y2="314.54" stroke="#666" stroke-width="0.8"/>
<line x1="32.70" y1="321.40" x2="34.70" y2="321.40" stroke="#666" stroke-width="0.8"/>
<line x1="32.70" y1="328.26" x2="34.70" y2="328.26" stroke="#666" stroke-width="0.8"/>
<line x1="30.90" y1="335.12" x2="34.70" y2="335.12" stroke="#555" stroke-width="1.0"/>
<text transform="translate(17.46 338.62) scale(0.927 1)" font-size="10.14" font-weight="bold" text-anchor="start" fill="#222" stroke="#222" stroke-width="0.5" stroke-linejoin="round">40</text>
<line x1="32.70" y1="341.98" x2="34.70" y2="341.98" stroke="#666" stroke-width="0.8"/>
<line x1="32.70" y1="348.84" x2="34.70" y2="348.84" stroke="#666" stroke-width="0.8"/>
<line x1="32.70" y1="355.70" x2="34.70" y2="355.70" stroke="#666" stroke-width="0.8"/>
<line x1="30.90" y1="362.56" x2="34.70" y2="362.56" stroke="#555" stroke-width="1.0"/>
<text transform="translate(17.46 366.06) scale(0.927 1)" font-size="10.14" font-weight="bold" text-anchor="start" fill="#222" stroke="#222" stroke-width="0.5" stroke-linejoin="round">20</text>
<line x1="32.70" y1="369.42" x2="34.70" y2="369.42" stroke="#666" stroke-width="0.8"/>
<line x1="32.70" y1="376.28" x2="34.70" y2="376.28" stroke="#666" stroke-width="0.8"/>
<line x1="32.70" y1="383.14" x2="34.70" y2="383.14" stroke="#666" stroke-width="0.8"/>
<line x1="30.90" y1="390.00" x2="34.70" y2="390.00" stroke="#555" stroke-width="1.0"/>
<text transform="translate(22.47 390.50)" font-size="10.14" font-weight="bold" text-anchor="start" fill="#222" stroke="#222" stroke-width="0.25" stroke-linejoin="round">0</text>
<text transform="translate(38.70 408.40) scale(0.898 1)" font-size="10.43" font-weight="normal" text-anchor="start" fill="#111" stroke="#111" stroke-width="0.45" stroke-linejoin="round">10</text>
<text transform="translate(50.30 399.60) scale(0.764 1)" font-size="10.14" font-weight="normal" text-anchor="start" fill="#111" stroke="#111" stroke-width="0.4" stroke-linejoin="round">0</text>
<line x1="50.40" y1="390.00" x2="50.40" y2="393.00" stroke="#555" stroke-width="0.9"/>
<line x1="36.91" y1="390.00" x2="36.91" y2="391.80" stroke="#777" stroke-width="0.6"/>
<line x1="40.20" y1="390.00" x2="40.20" y2="391.80" stroke="#777" stroke-width="0.6"/>
<line x1="42.88" y1="390.00" x2="42.88" y2="391.80" stroke="#777" stroke-width="0.6"/>
<line x1="45.15" y1="390.00" x2="45.15" y2="391.80" stroke="#777" stroke-width="0.6"/>
<line x1="47.11" y1="390.00" x2="47.11" y2="391.80" stroke="#777" stroke-width="0.6"/>
<line x1="48.85" y1="390.00" x2="48.85" y2="391.80" stroke="#777" stroke-width="0.6"/>
<text transform="translate(70.80 408.40) scale(0.898 1)" font-size="10.43" font-weight="normal" text-anchor="start" fill="#111" stroke="#111" stroke-width="0.45" stroke-linejoin="round">10</text>
<text transform="translate(81.40 399.60) scale(0.462 1)" font-size="10.14" font-weight="normal" text-anchor="start" fill="#111" stroke="#111" stroke-width="0.4" stroke-linejoin="round">1</text>
<line x1="84.30" y1="390.00" x2="84.30" y2="393.00" stroke="#555" stroke-width="0.9"/>
<line x1="60.60" y1="390.00" x2="60.60" y2="391.80" stroke="#777" stroke-width="0.6"/>
<line x1="66.57" y1="390.00" x2="66.57" y2="391.80" stroke="#777" stroke-width="0.6"/>
<line x1="70.81" y1="390.00" x2="70.81" y2="391.80" stroke="#777" stroke-width="0.6"/>
<line x1="74.10" y1="390.00" x2="74.10" y2="391.80" stroke="#777" stroke-width="0.6"/>
<line x1="76.78" y1="390.00" x2="76.78" y2="391.80" stroke="#777" stroke-width="0.6"/>
<line x1="79.05" y1="390.00" x2="79.05" y2="391.80" stroke="#777" stroke-width="0.6"/>
<line x1="81.01" y1="390.00" x2="81.01" y2="391.80" stroke="#777" stroke-width="0.6"/>
<line x1="82.75" y1="390.00" x2="82.75" y2="391.80" stroke="#777" stroke-width="0.6"/>
<text transform="translate(104.90 408.40) scale(0.898 1)" font-size="10.43" font-weight="normal" text-anchor="start" fill="#111" stroke="#111" stroke-width="0.45" stroke-linejoin="round">10</text>
<text transform="translate(115.00 399.60) scale(0.781 1)" font-size="10.14" font-weight="normal" text-anchor="start" fill="#111" stroke="#111" stroke-width="0.4" stroke-linejoin="round">2</text>
<line x1="118.20" y1="390.00" x2="118.20" y2="393.00" stroke="#555" stroke-width="0.9"/>
<line x1="94.50" y1="390.00" x2="94.50" y2="391.80" stroke="#777" stroke-width="0.6"/>
<line x1="100.47" y1="390.00" x2="100.47" y2="391.80" stroke="#777" stroke-width="0.6"/>
<line x1="104.71" y1="390.00" x2="104.71" y2="391.80" stroke="#777" stroke-width="0.6"/>
<line x1="108.00" y1="390.00" x2="108.00" y2="391.80" stroke="#777" stroke-width="0.6"/>
<line x1="110.68" y1="390.00" x2="110.68" y2="391.80" stroke="#777" stroke-width="0.6"/>
<line x1="112.95" y1="390.00" x2="112.95" y2="391.80" stroke="#777" stroke-width="0.6"/>
<line x1="114.91" y1="390.00" x2="114.91" y2="391.80" stroke="#777" stroke-width="0.6"/>
<line x1="116.65" y1="390.00" x2="116.65" y2="391.80" stroke="#777" stroke-width="0.6"/>
<text transform="translate(138.20 408.40) scale(0.898 1)" font-size="10.43" font-weight="normal" text-anchor="start" fill="#111" stroke="#111" stroke-width="0.45" stroke-linejoin="round">10</text>
<text transform="translate(149.40 399.60) scale(0.710 1)" font-size="10.14" font-weight="normal" text-anchor="start" fill="#111" stroke="#111" stroke-width="0.4" stroke-linejoin="round">3</text>
<line x1="152.10" y1="390.00" x2="152.10" y2="393.00" stroke="#555" stroke-width="0.9"/>
<line x1="128.40" y1="390.00" x2="128.40" y2="391.80" stroke="#777" stroke-width="0.6"/>
<line x1="134.37" y1="390.00" x2="134.37" y2="391.80" stroke="#777" stroke-width="0.6"/>
<line x1="138.61" y1="390.00" x2="138.61" y2="391.80" stroke="#777" stroke-width="0.6"/>
<line x1="141.90" y1="390.00" x2="141.90" y2="391.80" stroke="#777" stroke-width="0.6"/>
<line x1="144.58" y1="390.00" x2="144.58" y2="391.80" stroke="#777" stroke-width="0.6"/>
<line x1="146.85" y1="390.00" x2="146.85" y2="391.80" stroke="#777" stroke-width="0.6"/>
<line x1="148.81" y1="390.00" x2="148.81" y2="391.80" stroke="#777" stroke-width="0.6"/>
<line x1="150.55" y1="390.00" x2="150.55" y2="391.80" stroke="#777" stroke-width="0.6"/>
<text transform="translate(172.40 408.40) scale(0.898 1)" font-size="10.43" font-weight="normal" text-anchor="start" fill="#111" stroke="#111" stroke-width="0.45" stroke-linejoin="round">10</text>
<text transform="translate(184.20 399.60) scale(0.781 1)" font-size="10.14" font-weight="normal" text-anchor="start" fill="#111" stroke="#111" stroke-width="0.4" stroke-linejoin="round">4</text>
<line x1="186.00" y1="390.00" x2="186.00" y2="393.00" stroke="#555" stroke-width="0.9"/>
<line x1="162.30" y1="390.00" x2="162.30" y2="391.80" stroke="#777" stroke-width="0.6"/>
<line x1="168.27" y1="390.00" x2="168.27" y2="391.80" stroke="#777" stroke-width="0.6"/>
<line x1="172.51" y1="390.00" x2="172.51" y2="391.80" stroke="#777" stroke-width="0.6"/>
<line x1="175.80" y1="390.00" x2="175.80" y2="391.80" stroke="#777" stroke-width="0.6"/>
<line x1="178.48" y1="390.00" x2="178.48" y2="391.80" stroke="#777" stroke-width="0.6"/>
<line x1="180.75" y1="390.00" x2="180.75" y2="391.80" stroke="#777" stroke-width="0.6"/>
<line x1="182.71" y1="390.00" x2="182.71" y2="391.80" stroke="#777" stroke-width="0.6"/>
<line x1="184.45" y1="390.00" x2="184.45" y2="391.80" stroke="#777" stroke-width="0.6"/>
<text transform="translate(12.70 329.60) rotate(-90) scale(0.880 1)" font-size="15.07" font-weight="bold" text-anchor="start" fill="#000" stroke="#000" stroke-width="0.3" stroke-linejoin="round" letter-spacing="1.7" dx="0 0 0 0.00">Max%</text>
<path d="M7.8,338.4 L7.8,417.7 L84.4,417.7" fill="none" stroke="#000" stroke-width="2.5" stroke-linejoin="round"/>
<path d="M3.2,345.1 L7.8,338.0 L12.4,345.1" fill="none" stroke="#000" stroke-width="2.25" stroke-linejoin="round" stroke-linecap="round" stroke-linejoin="miter"/>
<path d="M77.7,413.1 L84.8,417.7 L77.7,422.3" fill="none" stroke="#000" stroke-width="2.25" stroke-linejoin="round" stroke-linecap="round" stroke-linejoin="miter"/>
<text transform="translate(89.60 421.80)" font-size="14.78" font-weight="bold" text-anchor="start" fill="#000" stroke="#000" stroke-width="0.01" stroke-linejoin="round" letter-spacing="-0.590">CD41</text>
<rect x="18.20" y="432.60" width="8.80" height="5.00" fill="#cacaca" stroke="none" stroke-width="1"/>
<rect x="18.20" y="449.40" width="8.80" height="5.00" fill="#707070" stroke="none" stroke-width="1"/>
<text transform="translate(30.20 438.60)" font-size="12.70" font-weight="bold" text-anchor="start" fill="#000" stroke="#000" stroke-width="0.15" stroke-linejoin="round">Ctrl Day0</text>
<text transform="translate(30.20 455.20)" font-size="12.70" font-weight="bold" text-anchor="start" fill="#000" stroke="#000" stroke-width="0.15" stroke-linejoin="round">Ctrl Day2</text>
<line x1="91.80" y1="432.60" x2="94.60" y2="432.60" stroke="#222" stroke-width="1.1"/>
<line x1="95.80" y1="432.60" x2="98.60" y2="432.60" stroke="#222" stroke-width="1.1"/>
<line x1="91.20" y1="450.20" x2="98.60" y2="450.20" stroke="#222" stroke-width="1.1"/>
<text transform="translate(100.20 437.20)" font-size="12.90" font-weight="bold" text-anchor="start" fill="#000" stroke="#000" stroke-width="0.15" stroke-linejoin="round">PITHD1 Day0</text>
<text transform="translate(100.20 454.60)" font-size="12.90" font-weight="bold" text-anchor="start" fill="#000" stroke="#000" stroke-width="0.15" stroke-linejoin="round">PITHD1 Day2</text>
<line x1="229.00" y1="277.20" x2="229.00" y2="399.90" stroke="#000" stroke-width="1.8"/>
<line x1="224.40" y1="399.00" x2="310.50" y2="399.00" stroke="#000" stroke-width="1.8"/>
<line x1="225.00" y1="399.00" x2="229.00" y2="399.00" stroke="#000" stroke-width="1.4"/>
<text transform="translate(218.43 402.90)" font-size="11.30" font-weight="bold" text-anchor="start" fill="#000" stroke="#000" stroke-width="0.25" stroke-linejoin="round">0</text>
<line x1="225.00" y1="368.70" x2="229.00" y2="368.70" stroke="#000" stroke-width="1.4"/>
<text transform="translate(213.67 372.60) scale(0.839 1)" font-size="11.30" font-weight="bold" text-anchor="start" fill="#000" stroke="#000" stroke-width="0.5" stroke-linejoin="round">50</text>
<line x1="225.00" y1="338.40" x2="229.00" y2="338.40" stroke="#000" stroke-width="1.4"/>
<text transform="translate(208.36 342.30) scale(0.839 1)" font-size="11.30" font-weight="bold" text-anchor="start" fill="#000" stroke="#000" stroke-width="0.5" stroke-linejoin="round">100</text>
<line x1="225.00" y1="308.10" x2="229.00" y2="308.10" stroke="#000" stroke-width="1.4"/>
<text transform="translate(208.36 312.00) scale(0.839 1)" font-size="11.30" font-weight="bold" text-anchor="start" fill="#000" stroke="#000" stroke-width="0.5" stroke-linejoin="round">150</text>
<line x1="225.00" y1="277.80" x2="229.00" y2="277.80" stroke="#000" stroke-width="1.4"/>
<text transform="translate(208.36 281.70) scale(0.839 1)" font-size="11.30" font-weight="bold" text-anchor="start" fill="#000" stroke="#000" stroke-width="0.5" stroke-linejoin="round">200</text>
<text transform="translate(205.80 350.80) rotate(-90) scale(0.895 1)" font-size="15.07" font-weight="bold" text-anchor="start" fill="#000" stroke="#000" stroke-width="0.5" stroke-linejoin="round">MFI</text>
<path d="M227.6,254.0 L235.9,254.0 L235.9,259.6 L227.6,259.6" fill="none" stroke="#000" stroke-width="1.8" stroke-linejoin="round"/>
<rect x="226.80" y="266.00" width="9.80" height="6.90" fill="#222" stroke="none" stroke-width="1"/>
<text transform="translate(241.20 261.20)" font-size="15.94" font-weight="normal" text-anchor="start" fill="#000" stroke="#000" stroke-width="0.55" stroke-linejoin="round" letter-spacing="-0.130">Ctrl</text>
<text transform="translate(241.40 277.20) scale(0.909 1)" font-size="15.65" font-weight="normal" text-anchor="start" fill="#000" stroke="#000" stroke-width="0.55" stroke-linejoin="round">PITHD1</text>
<rect x="234.95" y="377.25" width="12.20" height="21.75" fill="#fff" stroke="#000" stroke-width="1.3"/>
<line x1="241.00" y1="376.60" x2="241.00" y2="374.60" stroke="#000" stroke-width="1.1"/>
<line x1="237.50" y1="374.60" x2="244.50" y2="374.60" stroke="#000" stroke-width="1.1"/>
<rect x="250.80" y="376.00" width="13.80" height="23.00" fill="#000" stroke="none" stroke-width="1"/>
<line x1="257.70" y1="376.00" x2="257.70" y2="375.00" stroke="#000" stroke-width="1.1"/>
<line x1="254.20" y1="375.00" x2="261.20" y2="375.00" stroke="#000" stroke-width="1.1"/>
<rect x="275.15" y="328.05" width="12.90" height="70.95" fill="#fff" stroke="#000" stroke-width="1.3"/>
<line x1="281.60" y1="327.40" x2="281.60" y2="325.00" stroke="#000" stroke-width="1.1"/>
<line x1="277.85" y1="325.00" x2="285.35" y2="325.00" stroke="#000" stroke-width="1.1"/>
<rect x="291.00" y="303.20" width="13.80" height="95.80" fill="#000" stroke="none" stroke-width="1"/>
<line x1="297.90" y1="303.20" x2="297.90" y2="300.00" stroke="#000" stroke-width="1.1"/>
<line x1="293.90" y1="300.00" x2="301.90" y2="300.00" stroke="#000" stroke-width="1.1"/>
<line x1="249.20" y1="399.00" x2="249.20" y2="404.00" stroke="#000" stroke-width="1.3"/>
<line x1="289.40" y1="399.00" x2="289.40" y2="404.00" stroke="#000" stroke-width="1.3"/>
<path d="M281.3,299.7 L281.3,286.0 L297.4,286.0 L297.4,294.2" fill="none" stroke="#000" stroke-width="1.0" stroke-linejoin="round"/>
<text transform="translate(289.80 300.20)" font-size="16.00" font-weight="bold" text-anchor="middle" fill="#000" stroke="#000" stroke-width="0.1" stroke-linejoin="round">*</text>
<text transform="translate(200.60 418.80)" font-size="14.78" font-weight="bold" text-anchor="start" fill="#000" stroke="#000" stroke-width="0.01" stroke-linejoin="round" letter-spacing="-0.559">PMA</text>
<line x1="244.60" y1="414.50" x2="254.30" y2="414.50" stroke="#111" stroke-width="1.3"/>
<line x1="286.80" y1="414.50" x2="292.00" y2="414.50" stroke="#000" stroke-width="1.5"/>
<line x1="289.40" y1="411.90" x2="289.40" y2="417.10" stroke="#000" stroke-width="1.5"/>
<text transform="translate(357.60 409.60) rotate(-90)" font-size="15.36" font-weight="bold" text-anchor="start" fill="#000" stroke="#000" stroke-width="0.12" stroke-linejoin="round" letter-spacing="-0.279">Relative mRNA level</text>
<line x1="377.60" y1="279.60" x2="377.60" y2="410.00" stroke="#222" stroke-width="1.2"/>
<line x1="374.50" y1="409.40" x2="469.30" y2="409.40" stroke="#222" stroke-width="1.3"/>
<line x1="374.60" y1="409.40" x2="377.60" y2="409.40" stroke="#222" stroke-width="1.0"/>
<text transform="translate(363.20 413.00) scale(0.758 1)" font-size="10.43" font-weight="bold" text-anchor="start" fill="#111" stroke="#111" stroke-width="0.5" stroke-linejoin="round">0.0</text>
<line x1="374.60" y1="366.35" x2="377.60" y2="366.35" stroke="#222" stroke-width="1.0"/>
<text transform="translate(363.20 369.95) scale(0.758 1)" font-size="10.43" font-weight="bold" text-anchor="start" fill="#111" stroke="#111" stroke-width="0.5" stroke-linejoin="round">0.5</text>
<line x1="374.60" y1="323.30" x2="377.60" y2="323.30" stroke="#222" stroke-width="1.0"/>
<text transform="translate(363.20 326.90) scale(0.758 1)" font-size="10.43" font-weight="bold" text-anchor="start" fill="#111" stroke="#111" stroke-width="0.5" stroke-linejoin="round">1.0</text>
<line x1="374.60" y1="280.25" x2="377.60" y2="280.25" stroke="#222" stroke-width="1.0"/>
<text transform="translate(363.20 283.85) scale(0.758 1)" font-size="10.43" font-weight="bold" text-anchor="start" fill="#111" stroke="#111" stroke-width="0.5" stroke-linejoin="round">1.5</text>
<rect x="383.05" y="323.85" width="19.80" height="85.55" fill="#fff" stroke="#222" stroke-width="1.1"/>
<line x1="387.00" y1="323.00" x2="399.00" y2="323.00" stroke="#222" stroke-width="1.0"/>
<rect x="413.30" y="369.20" width="20.80" height="40.20" fill="#ababab" stroke="none" stroke-width="1"/>
<line x1="424.00" y1="369.20" x2="424.00" y2="367.40" stroke="#444" stroke-width="1.0"/>
<line x1="418.90" y1="367.40" x2="429.10" y2="367.40" stroke="#444" stroke-width="1.0"/>
<rect x="444.00" y="361.60" width="20.70" height="47.80" fill="#000" stroke="none" stroke-width="1"/>
<line x1="453.60" y1="361.60" x2="453.60" y2="355.40" stroke="#000" stroke-width="1.1"/>
<line x1="447.85" y1="355.40" x2="459.35" y2="355.40" stroke="#000" stroke-width="1.1"/>
<line x1="392.80" y1="410.00" x2="392.80" y2="413.00" stroke="#555" stroke-width="0.9"/>
<line x1="423.40" y1="410.00" x2="423.40" y2="413.00" stroke="#555" stroke-width="0.9"/>
<line x1="454.30" y1="410.00" x2="454.30" y2="413.00" stroke="#555" stroke-width="0.9"/>
<path d="M392.8,311.8 L392.8,304.6 L456.4,304.6 L456.4,336.4" fill="none" stroke="#111" stroke-width="1.0" stroke-linejoin="round"/>
<line x1="423.40" y1="304.60" x2="423.40" y2="332.50" stroke="#111" stroke-width="1.0"/>
<text transform="translate(415.80 327.60)" font-size="18.00" font-weight="bold" text-anchor="middle" fill="#000" stroke="#000" stroke-width="0.1" stroke-linejoin="round">*</text>
<text transform="translate(449.00 327.60)" font-size="18.00" font-weight="bold" text-anchor="middle" fill="#000" stroke="#000" stroke-width="0.1" stroke-linejoin="round">*</text>
<text transform="translate(404.20 425.80) rotate(-31)" font-size="14.00" font-weight="bold" text-anchor="end" fill="#000" stroke="#000" stroke-width="0.25" stroke-linejoin="round">Ctrl</text>
<text transform="translate(437.00 427.60) rotate(-30)" font-size="13.90" font-weight="bold" text-anchor="end" fill="#000" stroke="#000" stroke-width="0.25" stroke-linejoin="round">shRNA#1</text>
<text transform="translate(466.20 428.40) rotate(-30)" font-size="14.20" font-weight="bold" text-anchor="end" fill="#000" stroke="#000" stroke-width="0.25" stroke-linejoin="round">shRNA#2</text>
<text transform="translate(485.00 306.00) rotate(-40)" font-size="13.50" font-weight="bold" text-anchor="start" fill="#000" stroke="#000" stroke-width="0.25" stroke-linejoin="round">Ctrl</text>
<text transform="translate(508.00 306.00) rotate(-40)" font-size="13.50" font-weight="bold" text-anchor="start" fill="#000" stroke="#000" stroke-width="0.25" stroke-linejoin="round">shRNA#1</text>
<text transform="translate(535.60 307.00) rotate(-40)" font-size="13.50" font-weight="bold" text-anchor="start" fill="#000" stroke="#000" stroke-width="0.25" stroke-linejoin="round">shRNA#2</text>
<text transform="translate(557.60 305.80)" font-size="15.94" font-weight="normal" text-anchor="start" fill="#000" stroke="#000" stroke-width="0.4" stroke-linejoin="round" letter-spacing="0.233">Blot</text>
<line x1="556.00" y1="310.70" x2="595.00" y2="310.70" stroke="#000" stroke-width="2.6"/>
<rect x="478.60" y="311.50" width="73.60" height="22.30" fill="#eeeeee" stroke="#333" stroke-width="1.4" rx="1.2"/>
<rect x="478.60" y="335.50" width="73.60" height="22.30" fill="#ebebeb" stroke="#333" stroke-width="1.4" rx="1.2"/>
<rect x="483.1" y="321.1" width="15.5" height="8.6" rx="4.3" fill="#000" opacity="1.0" filter="url(#b2)"/>
<rect x="485.3" y="323.1" width="11.0" height="5.0" rx="2.5" fill="#000" opacity="0.7" filter="url(#b1)"/>
<rect x="507.5" y="322.0" width="14.5" height="6.4" rx="3.2" fill="#000" opacity="0.5" filter="url(#b2)"/>
<rect x="509.0" y="324.0" width="7.0" height="4.0" rx="2.0" fill="#000" opacity="0.25" filter="url(#b2)"/>
<rect x="533.8" y="321.4" width="14.5" height="6.0" rx="3.0" fill="#000" opacity="0.42" filter="url(#b2)"/>
<rect x="482.3" y="344.4" width="66.0" height="6.5" rx="3.2" fill="#000" opacity="0.35" filter="url(#b2)"/>
<rect x="483.2" y="342.7" width="19.5" height="9.0" rx="4.5" fill="#000" opacity="0.88" filter="url(#b2)"/>
<rect x="506.9" y="343.7" width="17.5" height="9.0" rx="4.5" fill="#000" opacity="0.88" filter="url(#b2)"/>
<rect x="528.6" y="343.1" width="19.5" height="9.0" rx="4.5" fill="#000" opacity="0.88" filter="url(#b2)"/>
<text transform="translate(557.00 329.90)" font-size="15.36" font-weight="bold" text-anchor="start" fill="#000" stroke="#000" stroke-width="0.25" stroke-linejoin="round" letter-spacing="-0.443">PITHD1</text>
<text transform="translate(557.00 354.20)" font-size="15.22" font-weight="bold" text-anchor="start" fill="#000" stroke="#000" stroke-width="0.25" stroke-linejoin="round" letter-spacing="-0.300">HSC-70</text>
<path d="M49.8,628.2 L50.9,625.5 L52.0,622.7 L53.2,619.6 L54.0,616.7 L54.4,614.3 L55.5,611.5 L56.0,609.1 L56.8,606.3 L57.0,603.7 L57.4,600.6 L57.6,598.1 L58.0,595.3 L58.2,592.6 L58.5,589.8 L58.9,587.0 L59.2,584.1 L59.3,581.4 L59.7,578.6 L59.8,575.6 L60.0,572.8 L60.0,570.3 L60.5,567.7 L60.5,564.9 L61.0,562.4 L61.0,559.6 L61.3,556.7 L61.4,554.1 L61.6,551.1 L62.0,548.4 L62.3,545.3 L62.2,542.4 L62.6,539.7 L62.8,537.2 L63.3,534.9 L63.2,532.4 L63.8,529.9 L64.0,527.2 L64.4,524.9 L64.6,522.5 L64.8,519.8 L65.3,516.4 L66.0,513.4 L66.6,510.0 L67.9,506.5 L69.2,511.0 L69.4,514.0 L70.0,516.8 L70.2,519.8 L70.5,522.5 L70.6,525.0 L70.8,527.9 L71.2,530.4 L71.2,533.2 L71.7,535.6 L71.8,538.5 L72.2,541.0 L72.3,543.7 L72.5,546.3 L72.6,548.8 L72.8,551.7 L73.1,554.3 L73.3,556.9 L73.5,559.4 L74.0,562.1 L73.9,564.9 L74.4,567.4 L74.5,570.1 L74.7,572.8 L75.2,575.1 L75.5,577.9 L76.3,580.2 L76.7,582.6 L77.2,585.1 L77.8,587.7 L78.2,590.3 L78.5,592.4 L78.9,594.9 L79.4,597.3 L80.0,600.0 L80.4,602.7 L80.7,605.3 L81.3,607.5 L81.5,610.2 L81.7,613.0 L82.1,615.4 L82.6,618.1 L83.0,620.5 L83.3,622.9 L83.8,625.8 L84.0,628.2Z" fill="#cfcfcf" stroke="none" stroke-width="1" stroke-linejoin="round"/>
<path d="M55.8,628.4 L57.9,626.8 L60.2,625.5 L61.6,623.0 L63.4,620.7 L64.7,618.1 L65.8,615.3 L66.8,613.0 L67.8,610.6 L68.7,607.8 L69.0,605.0 L69.8,602.7 L70.3,599.7 L70.8,597.3 L71.3,594.5 L71.6,591.5 L72.1,588.5 L72.6,585.5 L73.0,582.6 L73.5,579.8 L74.6,576.1 L75.5,572.8 L75.9,570.2 L75.9,568.0 L76.3,565.5 L76.8,563.0 L76.8,560.3 L77.1,558.0 L77.6,555.4 L77.8,552.9 L78.0,550.3 L78.4,547.9 L78.6,545.3 L78.7,542.8 L79.1,540.5 L79.2,538.1 L79.5,535.5 L79.8,533.0 L80.0,530.1 L80.6,527.3 L80.7,524.5 L81.1,521.8 L81.4,519.0 L81.7,516.2 L82.2,513.2 L82.6,510.4 L82.9,507.8 L83.2,505.1 L83.6,502.7 L84.2,500.0 L84.4,497.2 L85.4,492.6 L86.2,490.6 L87.2,492.4 L88.4,497.2 L88.6,499.8 L89.2,502.4 L89.5,505.1 L89.9,507.7 L90.2,510.5 L90.4,513.2 L90.5,515.8 L91.1,518.9 L91.1,521.7 L91.7,524.4 L91.9,527.2 L92.0,530.3 L92.4,533.0 L92.7,535.4 L92.7,537.8 L93.2,540.5 L93.3,542.8 L93.7,545.5 L94.0,548.0 L94.0,550.2 L94.4,552.9 L94.7,555.4 L95.0,557.7 L95.3,560.3 L95.5,563.0 L95.6,565.1 L96.1,567.8 L96.3,570.2 L96.4,572.8 L96.3,576.4 L96.4,579.8 L96.7,582.6 L97.1,585.7 L97.3,588.6 L97.8,591.6 L98.2,594.5 L98.5,597.5 L99.2,600.6 L99.5,603.5 L100.0,606.4 L100.5,609.3 L101.1,612.4 L102.3,615.1 L103.0,618.1 L103.8,621.0 L106.0,623.8 L108.2,627.0 L112.6,628.4Z" fill="#797979" stroke="none" stroke-width="1" stroke-linejoin="round"/>
<path d="M49.2,628.4 L50.4,624.6 L51.4,621.0 L52.1,617.0 L52.8,613.3 L53.6,609.3 L54.0,606.3 L54.7,603.3 L55.1,600.4 L55.8,597.5 L56.3,594.5 L56.7,590.7 L57.1,587.2 L57.3,583.4 L57.7,579.8 L58.1,575.7 L58.6,571.5 L58.7,568.3 L58.9,565.1 L59.1,562.1 L59.2,558.9 L59.5,555.7 L59.6,552.7 L59.7,549.4 L59.9,546.3 L60.2,542.9 L60.3,539.6 L60.5,536.0 L60.6,532.6 L60.8,529.3 L61.1,525.9 L61.2,522.4 L61.9,518.9 L62.4,515.3 L63.2,511.8 L64.6,508.6 L65.9,505.2 L66.2,508.5 L66.6,511.8 L66.9,515.1 L67.2,518.5 L67.5,522.1 L67.8,525.7 L68.3,529.4 L68.5,533.0 L68.9,536.2 L69.2,539.5 L69.6,542.5 L69.9,545.8 L70.2,549.0 L70.4,552.4 L70.4,556.0 L70.6,559.3 L70.7,562.7 L70.8,566.2 L71.0,569.6 L71.1,573.1 L71.2,576.6 L71.4,580.0" fill="none" stroke="#111" stroke-width="1.45" stroke-linejoin="round" stroke-dasharray="4.6 2.8"/>
<path d="M52.1,627.7 L53.8,626.0 L55.0,624.2 L56.6,622.5 L57.6,619.9 L58.4,617.5 L59.5,615.2 L59.9,613.2 L60.4,611.2 L60.8,609.3 L61.6,607.4 L62.0,605.4 L62.5,603.4 L62.9,601.3 L63.5,599.0 L64.0,596.7 L64.4,594.4 L64.8,592.2 L65.4,590.0 L65.8,587.8 L66.1,585.5 L66.9,583.3 L67.2,581.2 L67.6,579.2 L68.1,576.8 L68.2,574.9 L68.5,572.8 L68.6,570.6 L69.1,568.7 L68.9,566.6 L69.3,564.7 L69.4,562.5 L69.9,560.7 L69.8,558.5 L70.1,556.6 L70.4,554.6 L70.7,552.4 L70.9,550.5 L71.1,548.3 L71.2,546.3 L71.6,544.2 L71.9,541.7 L72.2,539.5 L72.4,537.5 L72.6,535.4 L72.9,533.0 L73.1,530.8 L73.4,528.7 L73.6,526.4 L73.7,524.2 L74.1,521.9 L74.2,519.8 L74.4,517.6 L74.7,515.3 L75.1,513.3 L75.3,510.9 L75.4,508.6 L75.8,506.5 L76.1,504.3 L76.7,501.9 L77.1,499.9 L78.6,497.8 L79.8,495.9 L81.2,494.4 L82.4,492.6 L83.1,491.3 L83.8,493.3 L84.1,495.8 L84.4,497.6 L85.1,499.9 L85.3,501.9 L85.7,504.0 L85.7,506.1 L85.9,507.9 L86.2,509.8 L86.2,511.9 L86.4,514.0 L86.8,515.8 L86.7,517.8 L87.1,519.8 L87.3,521.8 L87.6,523.9 L88.1,525.8 L88.1,527.8 L88.6,529.7 L88.7,531.9 L88.8,533.7 L89.4,535.9 L89.4,537.6 L89.7,539.7 L90.1,541.8 L90.2,543.9 L90.5,545.6 L90.4,547.6 L90.7,549.7 L90.8,551.5 L91.2,553.7 L91.2,555.8 L91.6,557.4 L91.7,559.6 L92.0,561.9 L92.3,564.1 L92.5,566.1 L93.2,568.4 L93.4,570.5 L93.7,572.8 L94.1,574.8 L94.4,576.8 L94.9,578.9 L95.3,580.7 L95.7,582.7 L95.8,584.8 L96.4,587.0 L96.4,589.2 L96.8,591.7 L97.1,593.9 L97.2,595.8 L97.7,598.1 L97.9,600.4 L98.4,602.5 L98.6,604.5 L99.0,606.9 L99.6,608.8 L100.0,610.9 L100.2,613.2 L100.8,615.2 L101.8,617.6 L102.6,619.6 L103.5,621.6 L104.5,624.0 L106.5,626.0 L108.2,627.7 L110.4,628.0 L112.9,628.0 L115.0,628.2 L117.1,628.4 L119.1,628.4 L121.0,628.2 L123.2,628.1 L125.1,628.4 L127.2,628.3 L129.1,628.1 L131.2,628.1 L133.4,628.1 L135.3,628.0 L137.3,628.2 L139.3,628.0 L141.2,628.3 L143.3,628.1 L145.3,628.1 L147.3,628.0 L149.5,628.1 L151.4,628.3 L153.4,628.1 L155.7,628.1 L157.6,628.3 L159.7,628.1 L161.6,628.3 L163.6,628.4 L165.6,628.4 L167.7,628.1 L169.7,628.1 L171.9,628.1 L174.0,628.2 L175.8,628.1 L177.9,628.1 L180.0,628.0 L181.9,628.2 L183.9,628.3 L185.9,628.3 L188.0,628.2" fill="none" stroke="#111" stroke-width="1.25" stroke-linejoin="round" stroke-dasharray="1.6 0.8"/>
<line x1="35.10" y1="483.00" x2="188.40" y2="483.00" stroke="#9a9a9a" stroke-width="1.3"/>
<line x1="188.40" y1="483.00" x2="188.40" y2="628.40" stroke="#8a8a8a" stroke-width="1.1"/>
<line x1="35.10" y1="482.40" x2="35.10" y2="629.00" stroke="#333" stroke-width="2.0"/>
<line x1="35.10" y1="628.40" x2="188.40" y2="628.40" stroke="#222" stroke-width="1.5"/>
<line x1="31.30" y1="490.50" x2="35.10" y2="490.50" stroke="#555" stroke-width="0.9"/>
<text transform="translate(18.80 493.25) scale(0.744 1)" font-size="7.97" font-weight="normal" text-anchor="start" fill="#444" stroke="#444" stroke-width="0.25" stroke-linejoin="round">100</text>
<line x1="33.10" y1="497.38" x2="35.10" y2="497.38" stroke="#666" stroke-width="0.7"/>
<line x1="33.10" y1="504.25" x2="35.10" y2="504.25" stroke="#666" stroke-width="0.7"/>
<line x1="33.10" y1="511.12" x2="35.10" y2="511.12" stroke="#666" stroke-width="0.7"/>
<line x1="31.30" y1="518.00" x2="35.10" y2="518.00" stroke="#555" stroke-width="0.9"/>
<text transform="translate(22.12 520.75) scale(0.744 1)" font-size="7.97" font-weight="normal" text-anchor="start" fill="#444" stroke="#444" stroke-width="0.25" stroke-linejoin="round">80</text>
<line x1="33.10" y1="524.88" x2="35.10" y2="524.88" stroke="#666" stroke-width="0.7"/>
<line x1="33.10" y1="531.75" x2="35.10" y2="531.75" stroke="#666" stroke-width="0.7"/>
<line x1="33.10" y1="538.62" x2="35.10" y2="538.62" stroke="#666" stroke-width="0.7"/>
<line x1="31.30" y1="545.50" x2="35.10" y2="545.50" stroke="#555" stroke-width="0.9"/>
<text transform="translate(22.12 548.25) scale(0.744 1)" font-size="7.97" font-weight="normal" text-anchor="start" fill="#444" stroke="#444" stroke-width="0.25" stroke-linejoin="round">60</text>
<line x1="33.10" y1="552.38" x2="35.10" y2="552.38" stroke="#666" stroke-width="0.7"/>
<line x1="33.10" y1="559.25" x2="35.10" y2="559.25" stroke="#666" stroke-width="0.7"/>
<line x1="33.10" y1="566.12" x2="35.10" y2="566.12" stroke="#666" stroke-width="0.7"/>
<line x1="31.30" y1="573.00" x2="35.10" y2="573.00" stroke="#555" stroke-width="0.9"/>
<text transform="translate(22.12 575.75) scale(0.744 1)" font-size="7.97" font-weight="normal" text-anchor="start" fill="#444" stroke="#444" stroke-width="0.25" stroke-linejoin="round">40</text>
<line x1="33.10" y1="579.88" x2="35.10" y2="579.88" stroke="#666" stroke-width="0.7"/>
<line x1="33.10" y1="586.75" x2="35.10" y2="586.75" stroke="#666" stroke-width="0.7"/>
<line x1="33.10" y1="593.62" x2="35.10" y2="593.62" stroke="#666" stroke-width="0.7"/>
<line x1="31.30" y1="600.50" x2="35.10" y2="600.50" stroke="#555" stroke-width="0.9"/>
<text transform="translate(22.12 603.25) scale(0.744 1)" font-size="7.97" font-weight="normal" text-anchor="start" fill="#444" stroke="#444" stroke-width="0.25" stroke-linejoin="round">20</text>
<line x1="33.10" y1="607.38" x2="35.10" y2="607.38" stroke="#666" stroke-width="0.7"/>
<line x1="33.10" y1="614.25" x2="35.10" y2="614.25" stroke="#666" stroke-width="0.7"/>
<line x1="33.10" y1="621.12" x2="35.10" y2="621.12" stroke="#666" stroke-width="0.7"/>
<line x1="31.30" y1="628.00" x2="35.10" y2="628.00" stroke="#555" stroke-width="0.9"/>
<text transform="translate(25.41 628.95) scale(0.744 1)" font-size="7.97" font-weight="normal" text-anchor="start" fill="#444" stroke="#444" stroke-width="0.25" stroke-linejoin="round">0</text>
<line x1="49.90" y1="628.40" x2="49.90" y2="632.00" stroke="#222" stroke-width="1.0"/>
<line x1="66.60" y1="628.40" x2="66.60" y2="632.00" stroke="#222" stroke-width="1.0"/>
<line x1="104.50" y1="628.40" x2="104.50" y2="632.00" stroke="#222" stroke-width="1.0"/>
<line x1="139.60" y1="628.40" x2="139.60" y2="632.00" stroke="#222" stroke-width="1.0"/>
<line x1="172.60" y1="628.40" x2="172.60" y2="632.00" stroke="#222" stroke-width="1.0"/>
<line x1="78.01" y1="628.40" x2="78.01" y2="630.60" stroke="#333" stroke-width="0.8"/>
<line x1="84.68" y1="628.40" x2="84.68" y2="630.60" stroke="#333" stroke-width="0.8"/>
<line x1="89.42" y1="628.40" x2="89.42" y2="630.60" stroke="#333" stroke-width="0.8"/>
<line x1="93.09" y1="628.40" x2="93.09" y2="630.60" stroke="#333" stroke-width="0.8"/>
<line x1="96.09" y1="628.40" x2="96.09" y2="630.60" stroke="#333" stroke-width="0.8"/>
<line x1="98.63" y1="628.40" x2="98.63" y2="630.60" stroke="#333" stroke-width="0.8"/>
<line x1="100.83" y1="628.40" x2="100.83" y2="630.60" stroke="#333" stroke-width="0.8"/>
<line x1="102.77" y1="628.40" x2="102.77" y2="630.60" stroke="#333" stroke-width="0.8"/>
<line x1="115.07" y1="628.40" x2="115.07" y2="630.60" stroke="#333" stroke-width="0.8"/>
<line x1="121.25" y1="628.40" x2="121.25" y2="630.60" stroke="#333" stroke-width="0.8"/>
<line x1="125.63" y1="628.40" x2="125.63" y2="630.60" stroke="#333" stroke-width="0.8"/>
<line x1="129.03" y1="628.40" x2="129.03" y2="630.60" stroke="#333" stroke-width="0.8"/>
<line x1="131.81" y1="628.40" x2="131.81" y2="630.60" stroke="#333" stroke-width="0.8"/>
<line x1="134.16" y1="628.40" x2="134.16" y2="630.60" stroke="#333" stroke-width="0.8"/>
<line x1="136.20" y1="628.40" x2="136.20" y2="630.60" stroke="#333" stroke-width="0.8"/>
<line x1="137.99" y1="628.40" x2="137.99" y2="630.60" stroke="#333" stroke-width="0.8"/>
<line x1="149.53" y1="628.40" x2="149.53" y2="630.60" stroke="#333" stroke-width="0.8"/>
<line x1="155.35" y1="628.40" x2="155.35" y2="630.60" stroke="#333" stroke-width="0.8"/>
<line x1="159.47" y1="628.40" x2="159.47" y2="630.60" stroke="#333" stroke-width="0.8"/>
<line x1="162.67" y1="628.40" x2="162.67" y2="630.60" stroke="#333" stroke-width="0.8"/>
<line x1="165.28" y1="628.40" x2="165.28" y2="630.60" stroke="#333" stroke-width="0.8"/>
<line x1="167.49" y1="628.40" x2="167.49" y2="630.60" stroke="#333" stroke-width="0.8"/>
<line x1="169.40" y1="628.40" x2="169.40" y2="630.60" stroke="#333" stroke-width="0.8"/>
<line x1="171.09" y1="628.40" x2="171.09" y2="630.60" stroke="#333" stroke-width="0.8"/>
<line x1="37.30" y1="628.40" x2="37.30" y2="630.60" stroke="#333" stroke-width="0.8"/>
<line x1="39.70" y1="628.40" x2="39.70" y2="630.60" stroke="#333" stroke-width="0.8"/>
<line x1="41.70" y1="628.40" x2="41.70" y2="630.60" stroke="#333" stroke-width="0.8"/>
<line x1="43.50" y1="628.40" x2="43.50" y2="630.60" stroke="#333" stroke-width="0.8"/>
<line x1="45.10" y1="628.40" x2="45.10" y2="630.60" stroke="#333" stroke-width="0.8"/>
<line x1="46.50" y1="628.40" x2="46.50" y2="630.60" stroke="#333" stroke-width="0.8"/>
<line x1="51.50" y1="628.40" x2="51.50" y2="630.60" stroke="#333" stroke-width="0.8"/>
<line x1="53.30" y1="628.40" x2="53.30" y2="630.60" stroke="#333" stroke-width="0.8"/>
<line x1="55.30" y1="628.40" x2="55.30" y2="630.60" stroke="#333" stroke-width="0.8"/>
<line x1="57.50" y1="628.40" x2="57.50" y2="630.60" stroke="#333" stroke-width="0.8"/>
<line x1="59.90" y1="628.40" x2="59.90" y2="630.60" stroke="#333" stroke-width="0.8"/>
<line x1="62.30" y1="628.40" x2="62.30" y2="630.60" stroke="#333" stroke-width="0.8"/>
<line x1="64.30" y1="628.40" x2="64.30" y2="630.60" stroke="#333" stroke-width="0.8"/>
<line x1="174.40" y1="628.40" x2="174.40" y2="630.60" stroke="#333" stroke-width="0.8"/>
<line x1="177.80" y1="628.40" x2="177.80" y2="630.60" stroke="#333" stroke-width="0.8"/>
<line x1="180.60" y1="628.40" x2="180.60" y2="630.60" stroke="#333" stroke-width="0.8"/>
<line x1="183.00" y1="628.40" x2="183.00" y2="630.60" stroke="#333" stroke-width="0.8"/>
<text transform="translate(48.00 650.20) scale(0.460 1)" font-size="7.83" font-weight="normal" text-anchor="start" fill="#444" stroke="#444" stroke-width="0.35" stroke-linejoin="round">0</text>
<text transform="translate(62.20 650.20) scale(0.760 1)" font-size="7.83" font-weight="normal" text-anchor="start" fill="#444" stroke="#444" stroke-width="0.35" stroke-linejoin="round">10</text>
<text transform="translate(69.80 645.00) scale(0.791 1)" font-size="6.38" font-weight="normal" text-anchor="start" fill="#444" stroke="#444" stroke-width="0.3" stroke-linejoin="round">2</text>
<text transform="translate(97.20 650.20) scale(0.760 1)" font-size="7.83" font-weight="normal" text-anchor="start" fill="#444" stroke="#444" stroke-width="0.35" stroke-linejoin="round">10</text>
<text transform="translate(104.80 645.00) scale(0.791 1)" font-size="6.38" font-weight="normal" text-anchor="start" fill="#444" stroke="#444" stroke-width="0.3" stroke-linejoin="round">3</text>
<text transform="translate(130.60 650.20) scale(0.760 1)" font-size="7.83" font-weight="normal" text-anchor="start" fill="#444" stroke="#444" stroke-width="0.35" stroke-linejoin="round">10</text>
<text transform="translate(138.20 645.00) scale(0.791 1)" font-size="6.38" font-weight="normal" text-anchor="start" fill="#444" stroke="#444" stroke-width="0.3" stroke-linejoin="round">4</text>
<text transform="translate(163.00 650.20) scale(0.760 1)" font-size="7.83" font-weight="normal" text-anchor="start" fill="#444" stroke="#444" stroke-width="0.35" stroke-linejoin="round">10</text>
<text transform="translate(170.60 645.00) scale(0.791 1)" font-size="6.38" font-weight="normal" text-anchor="start" fill="#444" stroke="#444" stroke-width="0.3" stroke-linejoin="round">5</text>
<text transform="translate(15.80 566.20) rotate(-90) scale(0.880 1)" font-size="15.07" font-weight="bold" text-anchor="start" fill="#000" stroke="#000" stroke-width="0.3" stroke-linejoin="round" letter-spacing="1.7" dx="0 0 0 0.00">Max%</text>
<path d="M12.8,573.2 L12.8,657.2 L87.6,657.2" fill="none" stroke="#000" stroke-width="2.6" stroke-linejoin="round"/>
<path d="M8.2,579.9 L12.8,572.8 L17.4,579.9" fill="none" stroke="#000" stroke-width="2.3400000000000003" stroke-linejoin="round" stroke-linecap="round" stroke-linejoin="miter"/>
<path d="M80.9,652.6 L88.0,657.2 L80.9,661.8" fill="none" stroke="#000" stroke-width="2.3400000000000003" stroke-linejoin="round" stroke-linecap="round" stroke-linejoin="miter"/>
<text transform="translate(94.20 663.00)" font-size="14.49" font-weight="bold" text-anchor="start" fill="#000" stroke="#000" stroke-width="0.01" stroke-linejoin="round" letter-spacing="-0.343">CD61</text>
<rect x="28.60" y="672.60" width="8.70" height="5.20" fill="#c6c6c6" stroke="none" stroke-width="1"/>
<rect x="28.60" y="690.80" width="8.70" height="5.20" fill="#6c6c6c" stroke="none" stroke-width="1"/>
<text transform="translate(38.60 678.70)" font-size="12.70" font-weight="bold" text-anchor="start" fill="#000" stroke="#000" stroke-width="0.15" stroke-linejoin="round">Ctrl Day0</text>
<text transform="translate(38.60 696.10)" font-size="12.70" font-weight="bold" text-anchor="start" fill="#000" stroke="#000" stroke-width="0.15" stroke-linejoin="round">Ctrl Day2</text>
<line x1="99.90" y1="675.20" x2="102.80" y2="675.20" stroke="#222" stroke-width="1.1"/>
<line x1="103.90" y1="675.20" x2="106.80" y2="675.20" stroke="#222" stroke-width="1.1"/>
<line x1="99.30" y1="691.90" x2="107.60" y2="691.90" stroke="#222" stroke-width="1.1"/>
<text transform="translate(109.60 678.70)" font-size="12.80" font-weight="bold" text-anchor="start" fill="#000" stroke="#000" stroke-width="0.15" stroke-linejoin="round">shRNA#1 Day0</text>
<text transform="translate(109.60 696.10)" font-size="12.80" font-weight="bold" text-anchor="start" fill="#000" stroke="#000" stroke-width="0.15" stroke-linejoin="round">shRNA#1 Day2</text>
<path d="M266.4,626.2 L267.8,622.8 L269.2,619.6 L269.7,616.8 L270.2,614.4 L270.8,611.7 L271.3,609.0 L272.0,606.3 L272.3,603.6 L272.5,600.6 L272.9,598.0 L273.1,595.4 L273.5,592.5 L274.0,590.0 L274.2,587.1 L274.6,584.5 L274.5,581.5 L274.6,578.9 L275.1,576.0 L275.2,573.4 L275.5,570.4 L275.7,567.7 L275.8,565.0 L276.3,562.3 L276.6,560.0 L277.3,557.3 L277.5,554.5 L278.0,551.9 L278.6,549.4 L278.9,546.8 L279.6,544.3 L279.9,541.5 L280.2,539.0 L280.3,536.3 L280.5,533.8 L280.6,530.9 L281.1,528.5 L281.1,525.6 L281.5,523.1 L281.4,520.3 L281.8,517.8 L282.2,515.1 L282.8,512.4 L283.4,509.5 L284.4,506.5 L285.6,510.0 L286.1,512.4 L286.5,515.2 L286.8,517.8 L287.1,520.6 L287.1,522.9 L287.6,525.7 L287.8,528.5 L287.9,531.2 L288.1,533.7 L288.0,536.4 L288.4,539.0 L288.8,541.5 L288.8,544.3 L289.1,546.8 L289.2,549.7 L289.2,552.3 L289.7,555.0 L289.7,557.4 L289.6,560.1 L290.0,562.7 L290.1,565.4 L290.4,568.2 L290.5,570.8 L290.9,573.4 L291.5,576.1 L292.2,578.7 L292.4,581.6 L292.9,584.1 L293.4,586.9 L294.0,589.5 L294.4,592.1 L295.0,594.7 L295.6,597.5 L296.0,600.0 L296.2,602.5 L296.7,605.1 L297.0,607.8 L297.5,610.6 L298.0,612.9 L298.3,615.7 L298.7,618.2 L299.0,620.8 L299.8,623.7 L300.0,626.2Z" fill="#cfcfcf" stroke="none" stroke-width="1" stroke-linejoin="round"/>
<path d="M273.0,625.8 L275.1,624.3 L277.7,622.6 L279.7,621.0 L280.8,618.8 L282.2,616.5 L283.5,614.2 L284.8,612.2 L285.6,609.8 L286.1,607.5 L286.7,604.8 L287.2,602.3 L287.7,600.1 L288.5,597.5 L289.1,594.5 L289.3,591.6 L290.0,588.8 L290.1,585.8 L290.7,582.7 L291.2,579.8 L291.3,576.6 L291.9,573.7 L292.1,570.8 L292.4,568.2 L292.8,565.7 L293.2,562.7 L293.7,560.3 L294.1,557.6 L294.6,555.2 L294.9,552.8 L295.1,550.1 L295.3,547.6 L295.8,545.0 L296.2,542.5 L296.4,540.4 L296.8,537.7 L297.0,535.0 L297.4,532.6 L297.9,530.0 L298.2,527.9 L298.5,525.2 L298.7,522.8 L299.1,520.3 L299.4,517.8 L299.6,514.9 L300.0,512.2 L300.3,509.1 L300.3,506.4 L300.7,503.5 L300.8,500.6 L301.2,497.9 L301.6,494.9 L302.2,492.0 L303.0,489.3 L304.2,491.5 L305.3,494.9 L306.1,497.9 L306.5,500.6 L306.8,502.9 L307.0,505.2 L307.2,507.9 L307.3,510.4 L307.8,512.8 L307.9,515.2 L308.1,517.8 L308.3,520.8 L308.5,523.4 L309.0,526.3 L309.0,529.2 L309.4,532.0 L309.7,534.9 L310.0,537.7 L310.3,540.5 L310.4,543.3 L310.9,546.2 L310.9,549.2 L311.2,551.8 L311.6,554.7 L311.8,557.6 L312.1,560.3 L312.3,562.9 L312.6,565.5 L313.1,568.0 L313.4,570.8 L313.8,573.6 L314.2,576.9 L314.7,579.8 L315.1,582.7 L315.6,585.2 L316.0,588.2 L316.0,590.9 L316.5,593.4 L317.1,596.2 L317.3,598.9 L317.9,601.2 L318.4,603.7 L318.6,606.2 L319.0,608.8 L319.6,611.2 L320.2,613.7 L321.5,616.6 L322.8,619.6 L323.9,622.5 L326.3,624.2 L328.4,625.8 L332.0,626.4Z" fill="#797979" stroke="none" stroke-width="1" stroke-linejoin="round"/>
<path d="M266.0,626.2 L267.9,624.0 L268.5,620.7 L268.9,617.4 L269.5,614.1 L270.1,610.7 L270.6,607.5 L270.9,604.2 L271.5,601.1 L271.9,597.6 L272.3,594.5 L272.7,590.7 L273.1,587.2 L273.3,583.6 L273.8,579.8 L274.2,576.8 L274.5,573.8 L274.9,570.8 L275.2,567.5 L275.3,564.1 L275.5,560.9 L275.7,557.5 L275.9,554.3 L276.2,550.9 L276.4,547.5 L276.7,544.3 L276.9,541.0 L277.2,537.5 L277.3,534.2 L277.5,531.0 L277.7,527.8 L277.9,524.3 L278.0,521.2 L278.3,517.8 L278.4,514.4 L278.6,511.2 L278.9,508.2 L279.1,505.2 L279.2,502.2 L279.5,499.2 L281.5,499.8 L283.5,501.2 L284.4,504.9 L285.5,508.5 L285.7,511.6 L285.9,514.8 L286.2,518.1 L286.4,521.2 L286.6,524.4 L286.7,527.7 L286.9,530.9 L287.0,534.4 L287.1,537.6 L287.4,540.9 L287.5,544.3 L287.7,547.6 L287.9,550.9 L288.2,554.3 L288.5,557.5 L288.6,560.9 L288.8,564.2 L289.1,567.3 L289.2,570.4 L289.4,573.4 L289.7,576.6 L289.9,579.7 L290.0,582.7" fill="none" stroke="#111" stroke-width="1.45" stroke-linejoin="round" stroke-dasharray="4.6 2.8"/>
<path d="M270.0,626.2 L271.4,624.1 L273.1,621.8 L274.5,619.6 L275.3,617.5 L276.0,615.4 L276.5,613.4 L277.4,611.6 L278.2,609.3 L278.6,607.1 L278.9,605.0 L279.4,602.8 L279.7,601.0 L280.3,598.7 L280.7,596.5 L281.1,594.5 L281.3,592.2 L281.8,590.2 L282.3,588.2 L282.8,586.0 L283.1,584.0 L283.2,581.8 L283.7,579.8 L284.2,577.7 L284.5,575.4 L285.0,573.2 L285.5,570.8 L285.6,568.7 L286.3,566.6 L286.3,564.4 L286.6,562.5 L287.1,560.4 L287.3,558.3 L287.6,556.6 L288.0,554.2 L288.2,552.3 L288.6,550.4 L288.8,547.9 L289.2,546.1 L289.3,543.7 L289.7,541.7 L289.9,539.5 L290.5,537.3 L290.8,534.9 L290.8,532.9 L291.3,530.6 L291.5,528.4 L291.8,526.0 L291.8,523.6 L292.1,521.3 L292.5,518.9 L292.8,516.5 L293.1,514.4 L293.2,512.3 L293.6,510.5 L293.9,508.3 L293.9,506.6 L294.1,504.5 L295.4,502.3 L296.8,500.5 L298.8,497.9 L299.3,500.0 L300.2,502.1 L300.8,504.5 L301.1,506.7 L301.2,509.1 L301.4,511.4 L301.6,513.5 L301.8,515.8 L302.0,518.2 L302.1,520.4 L302.5,522.5 L302.7,524.9 L302.8,526.8 L303.1,529.2 L303.2,531.0 L303.6,533.4 L304.0,535.5 L304.1,537.7 L304.8,539.6 L305.2,541.5 L305.4,543.5 L306.1,545.6 L306.1,547.6 L306.6,549.5 L306.9,551.5 L306.8,553.5 L307.3,555.8 L307.4,557.6 L307.5,559.6 L307.9,561.9 L308.2,564.2 L308.3,566.3 L308.6,568.6 L308.7,570.8 L309.0,572.9 L309.2,574.9 L309.5,576.8 L310.0,578.9 L310.2,580.7 L310.7,582.7 L311.0,585.1 L311.6,587.2 L311.7,589.2 L312.1,591.5 L312.4,593.6 L313.0,596.0 L313.2,598.4 L313.6,600.4 L313.9,602.5 L314.4,604.6 L315.1,606.4 L315.6,608.6 L315.8,610.5 L316.4,612.7 L316.7,614.6 L317.3,616.6 L318.3,618.4 L319.2,620.5 L320.0,622.3 L321.0,624.0 L322.8,625.2 L324.7,626.2 L326.9,626.1 L328.9,626.4 L330.7,626.0 L332.7,626.4 L334.7,626.4 L336.8,626.3 L338.8,626.1 L341.0,626.0 L342.9,626.4 L345.1,626.4 L347.3,626.0 L349.0,626.3 L351.2,626.0 L353.2,626.1 L355.2,626.0 L357.0,626.4 L359.2,626.4 L361.1,626.2 L363.2,626.2 L365.2,626.3 L367.3,626.3 L369.4,626.0 L371.4,626.2 L373.7,626.1 L375.4,626.4 L377.7,626.3 L379.5,626.1 L381.5,626.0 L383.5,626.2 L385.7,626.2 L387.7,626.0 L389.8,626.3 L391.8,626.2 L393.9,626.4 L396.0,626.3 L397.9,626.1 L399.9,626.4 L401.9,626.2 L404.0,626.2" fill="none" stroke="#111" stroke-width="1.25" stroke-linejoin="round" stroke-dasharray="1.6 0.8"/>
<line x1="252.10" y1="480.90" x2="404.40" y2="480.90" stroke="#555" stroke-width="1.7"/>
<line x1="404.40" y1="480.90" x2="404.40" y2="626.40" stroke="#8a8a8a" stroke-width="1.1"/>
<line x1="252.10" y1="480.30" x2="252.10" y2="627.00" stroke="#333" stroke-width="1.5"/>
<line x1="252.10" y1="626.40" x2="404.40" y2="626.40" stroke="#222" stroke-width="1.5"/>
<line x1="248.30" y1="489.60" x2="252.10" y2="489.60" stroke="#555" stroke-width="0.9"/>
<text transform="translate(238.14 491.80) scale(0.709 1)" font-size="6.38" font-weight="normal" text-anchor="start" fill="#333" stroke="#333" stroke-width="0.25" stroke-linejoin="round">100</text>
<line x1="250.10" y1="496.45" x2="252.10" y2="496.45" stroke="#666" stroke-width="0.7"/>
<line x1="250.10" y1="503.30" x2="252.10" y2="503.30" stroke="#666" stroke-width="0.7"/>
<line x1="250.10" y1="510.15" x2="252.10" y2="510.15" stroke="#666" stroke-width="0.7"/>
<line x1="248.30" y1="517.00" x2="252.10" y2="517.00" stroke="#555" stroke-width="0.9"/>
<text transform="translate(240.68 519.20) scale(0.709 1)" font-size="6.38" font-weight="normal" text-anchor="start" fill="#333" stroke="#333" stroke-width="0.25" stroke-linejoin="round">80</text>
<line x1="250.10" y1="523.85" x2="252.10" y2="523.85" stroke="#666" stroke-width="0.7"/>
<line x1="250.10" y1="530.70" x2="252.10" y2="530.70" stroke="#666" stroke-width="0.7"/>
<line x1="250.10" y1="537.55" x2="252.10" y2="537.55" stroke="#666" stroke-width="0.7"/>
<line x1="248.30" y1="544.40" x2="252.10" y2="544.40" stroke="#555" stroke-width="0.9"/>
<text transform="translate(240.68 546.60) scale(0.709 1)" font-size="6.38" font-weight="normal" text-anchor="start" fill="#333" stroke="#333" stroke-width="0.25" stroke-linejoin="round">60</text>
<line x1="250.10" y1="551.25" x2="252.10" y2="551.25" stroke="#666" stroke-width="0.7"/>
<line x1="250.10" y1="558.10" x2="252.10" y2="558.10" stroke="#666" stroke-width="0.7"/>
<line x1="250.10" y1="564.95" x2="252.10" y2="564.95" stroke="#666" stroke-width="0.7"/>
<line x1="248.30" y1="571.80" x2="252.10" y2="571.80" stroke="#555" stroke-width="0.9"/>
<text transform="translate(240.68 574.00) scale(0.709 1)" font-size="6.38" font-weight="normal" text-anchor="start" fill="#333" stroke="#333" stroke-width="0.25" stroke-linejoin="round">40</text>
<line x1="250.10" y1="578.65" x2="252.10" y2="578.65" stroke="#666" stroke-width="0.7"/>
<line x1="250.10" y1="585.50" x2="252.10" y2="585.50" stroke="#666" stroke-width="0.7"/>
<line x1="250.10" y1="592.35" x2="252.10" y2="592.35" stroke="#666" stroke-width="0.7"/>
<line x1="248.30" y1="599.20" x2="252.10" y2="599.20" stroke="#555" stroke-width="0.9"/>
<text transform="translate(240.68 601.40) scale(0.709 1)" font-size="6.38" font-weight="normal" text-anchor="start" fill="#333" stroke="#333" stroke-width="0.25" stroke-linejoin="round">20</text>
<line x1="250.10" y1="606.05" x2="252.10" y2="606.05" stroke="#666" stroke-width="0.7"/>
<line x1="250.10" y1="612.90" x2="252.10" y2="612.90" stroke="#666" stroke-width="0.7"/>
<line x1="250.10" y1="619.75" x2="252.10" y2="619.75" stroke="#666" stroke-width="0.7"/>
<line x1="248.30" y1="626.60" x2="252.10" y2="626.60" stroke="#555" stroke-width="0.9"/>
<text transform="translate(243.19 627.00) scale(0.709 1)" font-size="6.38" font-weight="normal" text-anchor="start" fill="#333" stroke="#333" stroke-width="0.25" stroke-linejoin="round">0</text>
<line x1="267.90" y1="626.40" x2="267.90" y2="630.00" stroke="#222" stroke-width="1.0"/>
<line x1="284.50" y1="626.40" x2="284.50" y2="630.00" stroke="#222" stroke-width="1.0"/>
<line x1="321.00" y1="626.40" x2="321.00" y2="630.00" stroke="#222" stroke-width="1.0"/>
<line x1="356.50" y1="626.40" x2="356.50" y2="630.00" stroke="#222" stroke-width="1.0"/>
<line x1="389.60" y1="626.40" x2="389.60" y2="630.00" stroke="#222" stroke-width="1.0"/>
<line x1="295.49" y1="626.40" x2="295.49" y2="628.60" stroke="#333" stroke-width="0.8"/>
<line x1="301.91" y1="626.40" x2="301.91" y2="628.60" stroke="#333" stroke-width="0.8"/>
<line x1="306.48" y1="626.40" x2="306.48" y2="628.60" stroke="#333" stroke-width="0.8"/>
<line x1="310.01" y1="626.40" x2="310.01" y2="628.60" stroke="#333" stroke-width="0.8"/>
<line x1="312.90" y1="626.40" x2="312.90" y2="628.60" stroke="#333" stroke-width="0.8"/>
<line x1="315.35" y1="626.40" x2="315.35" y2="628.60" stroke="#333" stroke-width="0.8"/>
<line x1="317.46" y1="626.40" x2="317.46" y2="628.60" stroke="#333" stroke-width="0.8"/>
<line x1="319.33" y1="626.40" x2="319.33" y2="628.60" stroke="#333" stroke-width="0.8"/>
<line x1="331.69" y1="626.40" x2="331.69" y2="628.60" stroke="#333" stroke-width="0.8"/>
<line x1="337.94" y1="626.40" x2="337.94" y2="628.60" stroke="#333" stroke-width="0.8"/>
<line x1="342.37" y1="626.40" x2="342.37" y2="628.60" stroke="#333" stroke-width="0.8"/>
<line x1="345.81" y1="626.40" x2="345.81" y2="628.60" stroke="#333" stroke-width="0.8"/>
<line x1="348.62" y1="626.40" x2="348.62" y2="628.60" stroke="#333" stroke-width="0.8"/>
<line x1="351.00" y1="626.40" x2="351.00" y2="628.60" stroke="#333" stroke-width="0.8"/>
<line x1="353.06" y1="626.40" x2="353.06" y2="628.60" stroke="#333" stroke-width="0.8"/>
<line x1="354.88" y1="626.40" x2="354.88" y2="628.60" stroke="#333" stroke-width="0.8"/>
<line x1="366.46" y1="626.40" x2="366.46" y2="628.60" stroke="#333" stroke-width="0.8"/>
<line x1="372.29" y1="626.40" x2="372.29" y2="628.60" stroke="#333" stroke-width="0.8"/>
<line x1="376.43" y1="626.40" x2="376.43" y2="628.60" stroke="#333" stroke-width="0.8"/>
<line x1="379.64" y1="626.40" x2="379.64" y2="628.60" stroke="#333" stroke-width="0.8"/>
<line x1="382.26" y1="626.40" x2="382.26" y2="628.60" stroke="#333" stroke-width="0.8"/>
<line x1="384.47" y1="626.40" x2="384.47" y2="628.60" stroke="#333" stroke-width="0.8"/>
<line x1="386.39" y1="626.40" x2="386.39" y2="628.60" stroke="#333" stroke-width="0.8"/>
<line x1="388.09" y1="626.40" x2="388.09" y2="628.60" stroke="#333" stroke-width="0.8"/>
<line x1="254.30" y1="626.40" x2="254.30" y2="628.60" stroke="#333" stroke-width="0.8"/>
<line x1="256.70" y1="626.40" x2="256.70" y2="628.60" stroke="#333" stroke-width="0.8"/>
<line x1="258.70" y1="626.40" x2="258.70" y2="628.60" stroke="#333" stroke-width="0.8"/>
<line x1="260.50" y1="626.40" x2="260.50" y2="628.60" stroke="#333" stroke-width="0.8"/>
<line x1="262.10" y1="626.40" x2="262.10" y2="628.60" stroke="#333" stroke-width="0.8"/>
<line x1="263.50" y1="626.40" x2="263.50" y2="628.60" stroke="#333" stroke-width="0.8"/>
<line x1="269.50" y1="626.40" x2="269.50" y2="628.60" stroke="#333" stroke-width="0.8"/>
<line x1="271.30" y1="626.40" x2="271.30" y2="628.60" stroke="#333" stroke-width="0.8"/>
<line x1="273.30" y1="626.40" x2="273.30" y2="628.60" stroke="#333" stroke-width="0.8"/>
<line x1="275.50" y1="626.40" x2="275.50" y2="628.60" stroke="#333" stroke-width="0.8"/>
<line x1="277.90" y1="626.40" x2="277.90" y2="628.60" stroke="#333" stroke-width="0.8"/>
<line x1="280.30" y1="626.40" x2="280.30" y2="628.60" stroke="#333" stroke-width="0.8"/>
<line x1="282.30" y1="626.40" x2="282.30" y2="628.60" stroke="#333" stroke-width="0.8"/>
<line x1="390.40" y1="626.40" x2="390.40" y2="628.60" stroke="#333" stroke-width="0.8"/>
<line x1="393.80" y1="626.40" x2="393.80" y2="628.60" stroke="#333" stroke-width="0.8"/>
<line x1="396.60" y1="626.40" x2="396.60" y2="628.60" stroke="#333" stroke-width="0.8"/>
<line x1="399.00" y1="626.40" x2="399.00" y2="628.60" stroke="#333" stroke-width="0.8"/>
<text transform="translate(266.00 646.60) scale(0.541 1)" font-size="6.67" font-weight="normal" text-anchor="start" fill="#333" stroke="#333" stroke-width="0.35" stroke-linejoin="round">0</text>
<text transform="translate(280.20 646.60) scale(0.730 1)" font-size="6.67" font-weight="normal" text-anchor="start" fill="#333" stroke="#333" stroke-width="0.35" stroke-linejoin="round">10</text>
<text transform="translate(286.60 642.20) scale(0.791 1)" font-size="6.38" font-weight="normal" text-anchor="start" fill="#333" stroke="#333" stroke-width="0.3" stroke-linejoin="round">2</text>
<text transform="translate(315.40 646.60) scale(0.730 1)" font-size="6.67" font-weight="normal" text-anchor="start" fill="#333" stroke="#333" stroke-width="0.35" stroke-linejoin="round">10</text>
<text transform="translate(321.80 642.20) scale(0.791 1)" font-size="6.38" font-weight="normal" text-anchor="start" fill="#333" stroke="#333" stroke-width="0.3" stroke-linejoin="round">3</text>
<text transform="translate(349.60 646.60) scale(0.730 1)" font-size="6.67" font-weight="normal" text-anchor="start" fill="#333" stroke="#333" stroke-width="0.35" stroke-linejoin="round">10</text>
<text transform="translate(356.00 642.20) scale(0.791 1)" font-size="6.38" font-weight="normal" text-anchor="start" fill="#333" stroke="#333" stroke-width="0.3" stroke-linejoin="round">4</text>
<text transform="translate(381.00 646.60) scale(0.730 1)" font-size="6.67" font-weight="normal" text-anchor="start" fill="#333" stroke="#333" stroke-width="0.35" stroke-linejoin="round">10</text>
<text transform="translate(387.40 642.20) scale(0.791 1)" font-size="6.38" font-weight="normal" text-anchor="start" fill="#333" stroke="#333" stroke-width="0.3" stroke-linejoin="round">5</text>
<text transform="translate(233.40 565.20) rotate(-90) scale(0.880 1)" font-size="15.07" font-weight="bold" text-anchor="start" fill="#000" stroke="#000" stroke-width="0.3" stroke-linejoin="round" letter-spacing="1.7" dx="0 0 0 0.00">Max%</text>
<path d="M230.5,572.2 L230.5,656.4 L308.4,656.4" fill="none" stroke="#000" stroke-width="2.6" stroke-linejoin="round"/>
<path d="M225.9,578.9 L230.5,571.8 L235.1,578.9" fill="none" stroke="#000" stroke-width="2.3400000000000003" stroke-linejoin="round" stroke-linecap="round" stroke-linejoin="miter"/>
<path d="M301.7,651.8 L308.8,656.4 L301.7,661.0" fill="none" stroke="#000" stroke-width="2.3400000000000003" stroke-linejoin="round" stroke-linecap="round" stroke-linejoin="miter"/>
<text transform="translate(313.40 662.20)" font-size="14.78" font-weight="bold" text-anchor="start" fill="#000" stroke="#000" stroke-width="0.01" stroke-linejoin="round" letter-spacing="-0.457">CD61</text>
<rect x="250.40" y="671.40" width="8.50" height="6.20" fill="#c6c6c6" stroke="none" stroke-width="1"/>
<rect x="250.40" y="689.00" width="8.50" height="6.20" fill="#6c6c6c" stroke="none" stroke-width="1"/>
<text transform="translate(261.20 678.80)" font-size="12.70" font-weight="bold" text-anchor="start" fill="#000" stroke="#000" stroke-width="0.15" stroke-linejoin="round">Ctrl Day0</text>
<text transform="translate(261.20 696.30)" font-size="12.70" font-weight="bold" text-anchor="start" fill="#000" stroke="#000" stroke-width="0.15" stroke-linejoin="round">Ctrl Day2</text>
<line x1="321.20" y1="675.20" x2="324.10" y2="675.20" stroke="#222" stroke-width="1.1"/>
<line x1="325.20" y1="675.20" x2="328.10" y2="675.20" stroke="#222" stroke-width="1.1"/>
<line x1="320.60" y1="694.80" x2="329.80" y2="694.80" stroke="#222" stroke-width="1.1"/>
<text transform="translate(330.60 678.80)" font-size="12.80" font-weight="bold" text-anchor="start" fill="#000" stroke="#000" stroke-width="0.15" stroke-linejoin="round">shRNA#2 Day0</text>
<text transform="translate(330.60 696.30)" font-size="12.80" font-weight="bold" text-anchor="start" fill="#000" stroke="#000" stroke-width="0.15" stroke-linejoin="round">shRNA#2 Day2</text>
<line x1="473.00" y1="506.00" x2="473.00" y2="640.30" stroke="#000" stroke-width="1.9"/>
<line x1="469.00" y1="639.40" x2="566.40" y2="639.40" stroke="#000" stroke-width="1.9"/>
<line x1="469.40" y1="639.40" x2="473.00" y2="639.40" stroke="#000" stroke-width="1.5"/>
<text transform="translate(461.96 643.50)" font-size="11.88" font-weight="bold" text-anchor="start" fill="#000" stroke="#000" stroke-width="0.25" stroke-linejoin="round">0</text>
<line x1="469.40" y1="595.20" x2="473.00" y2="595.20" stroke="#000" stroke-width="1.5"/>
<text transform="translate(450.49 599.30) scale(0.892 1)" font-size="11.88" font-weight="bold" text-anchor="start" fill="#000" stroke="#000" stroke-width="0.5" stroke-linejoin="round">100</text>
<line x1="469.40" y1="551.00" x2="473.00" y2="551.00" stroke="#000" stroke-width="1.5"/>
<text transform="translate(450.49 555.10) scale(0.892 1)" font-size="11.88" font-weight="bold" text-anchor="start" fill="#000" stroke="#000" stroke-width="0.5" stroke-linejoin="round">200</text>
<line x1="469.40" y1="506.80" x2="473.00" y2="506.80" stroke="#000" stroke-width="1.5"/>
<text transform="translate(450.49 510.90) scale(0.892 1)" font-size="11.88" font-weight="bold" text-anchor="start" fill="#000" stroke="#000" stroke-width="0.5" stroke-linejoin="round">300</text>
<text transform="translate(441.20 593.40) rotate(-90) scale(0.900 1)" font-size="14.00" font-weight="bold" text-anchor="start" fill="#000" stroke="#000" stroke-width="0.3" stroke-linejoin="round" dx="0 0 2.6">MFI</text>
<rect x="477.50" y="480.50" width="6.70" height="4.70" fill="#fff" stroke="#000" stroke-width="1.9"/>
<rect x="477.00" y="492.30" width="8.00" height="5.20" fill="#9a9a9a" stroke="none" stroke-width="1"/>
<rect x="476.60" y="502.10" width="8.50" height="6.50" fill="#1a1a1a" stroke="none" stroke-width="1"/>
<text transform="translate(489.40 487.90)" font-size="14.35" font-weight="normal" text-anchor="start" fill="#000" stroke="#000" stroke-width="0.7" stroke-linejoin="round" letter-spacing="-0.437">Ctrl</text>
<text transform="translate(487.60 498.70)" font-size="13.19" font-weight="bold" text-anchor="start" fill="#000" stroke="#000" stroke-width="0.25" stroke-linejoin="round" letter-spacing="-0.470">shRNA#1</text>
<text transform="translate(487.60 509.50)" font-size="13.19" font-weight="bold" text-anchor="start" fill="#000" stroke="#000" stroke-width="0.25" stroke-linejoin="round" letter-spacing="-0.470">shRNA#2</text>
<rect x="478.15" y="617.55" width="10.40" height="21.85" fill="#fff" stroke="#000" stroke-width="1.3"/>
<line x1="483.30" y1="616.90" x2="483.30" y2="610.50" stroke="#000" stroke-width="1.1"/>
<line x1="480.30" y1="610.50" x2="486.30" y2="610.50" stroke="#000" stroke-width="1.1"/>
<rect x="490.80" y="622.40" width="12.20" height="17.00" fill="#8f8f8f" stroke="none" stroke-width="1"/>
<line x1="496.90" y1="622.40" x2="496.90" y2="620.80" stroke="#666" stroke-width="1.0"/>
<line x1="493.90" y1="620.80" x2="499.90" y2="620.80" stroke="#666" stroke-width="1.0"/>
<rect x="504.60" y="619.20" width="12.20" height="20.20" fill="#000" stroke="none" stroke-width="1"/>
<line x1="510.70" y1="619.20" x2="510.70" y2="618.40" stroke="#000" stroke-width="1.0"/>
<line x1="507.70" y1="618.40" x2="513.70" y2="618.40" stroke="#000" stroke-width="1.0"/>
<rect x="525.25" y="537.25" width="9.70" height="102.15" fill="#fff" stroke="#000" stroke-width="1.3"/>
<line x1="530.10" y1="536.60" x2="530.10" y2="532.00" stroke="#000" stroke-width="1.1"/>
<line x1="527.10" y1="532.00" x2="533.10" y2="532.00" stroke="#000" stroke-width="1.1"/>
<rect x="537.40" y="563.60" width="11.90" height="75.80" fill="#8f8f8f" stroke="none" stroke-width="1"/>
<line x1="543.30" y1="563.60" x2="543.30" y2="562.20" stroke="#666" stroke-width="1.0"/>
<line x1="540.05" y1="562.20" x2="546.55" y2="562.20" stroke="#666" stroke-width="1.0"/>
<rect x="551.20" y="565.20" width="11.80" height="74.20" fill="#000" stroke="none" stroke-width="1"/>
<line x1="557.10" y1="565.20" x2="557.10" y2="564.40" stroke="#000" stroke-width="1.0"/>
<line x1="553.85" y1="564.40" x2="560.35" y2="564.40" stroke="#000" stroke-width="1.0"/>
<line x1="496.60" y1="639.40" x2="496.60" y2="643.80" stroke="#000" stroke-width="1.3"/>
<line x1="542.90" y1="639.40" x2="542.90" y2="643.80" stroke="#000" stroke-width="1.3"/>
<path d="M528.7,526.2 L528.7,519.3 L560.4,519.3 L560.4,537.0" fill="none" stroke="#000" stroke-width="1.0" stroke-linejoin="round"/>
<line x1="544.80" y1="519.30" x2="544.80" y2="537.00" stroke="#000" stroke-width="1.0"/>
<text transform="translate(538.80 533.80)" font-size="16.00" font-weight="bold" text-anchor="middle" fill="#000" stroke="#000" stroke-width="0.1" stroke-linejoin="round">*</text>
<text transform="translate(553.60 534.20)" font-size="16.00" font-weight="bold" text-anchor="middle" fill="#000" stroke="#000" stroke-width="0.1" stroke-linejoin="round">*</text>
<text transform="translate(446.40 658.80)" font-size="15.07" font-weight="bold" text-anchor="start" fill="#000" stroke="#000" stroke-width="0.01" stroke-linejoin="round" letter-spacing="-0.930">PMA</text>
<line x1="490.80" y1="654.10" x2="501.10" y2="654.10" stroke="#111" stroke-width="1.3"/>
<line x1="540.30" y1="653.60" x2="545.50" y2="653.60" stroke="#000" stroke-width="1.5"/>
<line x1="542.90" y1="651.00" x2="542.90" y2="656.20" stroke="#000" stroke-width="1.5"/>
</g>
</svg>
</body></html>
